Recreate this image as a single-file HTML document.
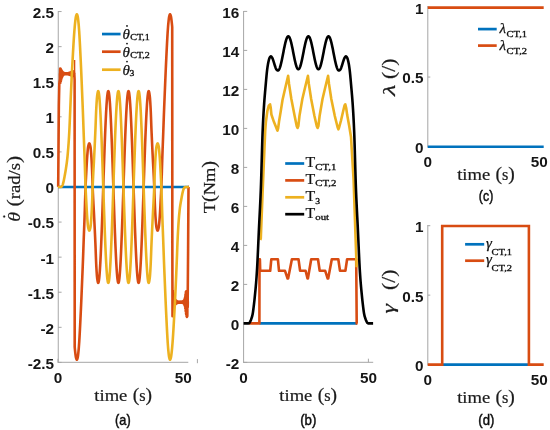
<!DOCTYPE html>
<html lang="en"><head><meta charset="utf-8"><title>figure</title>
<style>html,body{margin:0;padding:0;background:#fff;}svg{display:block}</style></head>
<body>
<svg width="550" height="430" viewBox="0 0 550 430">
<rect width="550" height="430" fill="#ffffff"/>
<g shape-rendering="auto">
<line x1="58.25" y1="11.1" x2="58.25" y2="362.8" stroke="#a6a6a6" stroke-width="1"/>
<line x1="57.75" y1="362.3" x2="188.3" y2="362.3" stroke="#a6a6a6" stroke-width="1"/>
<line x1="58" y1="11.56" x2="61.6" y2="11.56" stroke="#a6a6a6" stroke-width="1"/>
<line x1="58" y1="46.644000000000005" x2="61.6" y2="46.644000000000005" stroke="#a6a6a6" stroke-width="1"/>
<line x1="58" y1="81.72800000000001" x2="61.6" y2="81.72800000000001" stroke="#a6a6a6" stroke-width="1"/>
<line x1="58" y1="116.81200000000001" x2="61.6" y2="116.81200000000001" stroke="#a6a6a6" stroke-width="1"/>
<line x1="58" y1="151.89600000000002" x2="61.6" y2="151.89600000000002" stroke="#a6a6a6" stroke-width="1"/>
<line x1="58" y1="186.98000000000002" x2="61.6" y2="186.98000000000002" stroke="#a6a6a6" stroke-width="1"/>
<line x1="58" y1="222.06400000000002" x2="61.6" y2="222.06400000000002" stroke="#a6a6a6" stroke-width="1"/>
<line x1="58" y1="257.148" x2="61.6" y2="257.148" stroke="#a6a6a6" stroke-width="1"/>
<line x1="58" y1="292.232" x2="61.6" y2="292.232" stroke="#a6a6a6" stroke-width="1"/>
<line x1="58" y1="327.31600000000003" x2="61.6" y2="327.31600000000003" stroke="#a6a6a6" stroke-width="1"/>
<line x1="58" y1="362.40000000000003" x2="61.6" y2="362.40000000000003" stroke="#a6a6a6" stroke-width="1"/>
<line x1="58" y1="362.4" x2="58" y2="358.79999999999995" stroke="#a6a6a6" stroke-width="1"/>
<line x1="197.4" y1="359.1" x2="197.4" y2="363.2" stroke="#a6a6a6" stroke-width="1"/>
<line x1="243.6" y1="11.0" x2="243.6" y2="362.8" stroke="#a6a6a6" stroke-width="1"/>
<line x1="243.1" y1="362.3" x2="373.2" y2="362.3" stroke="#a6a6a6" stroke-width="1"/>
<line x1="243.6" y1="11.399999999999977" x2="247.2" y2="11.399999999999977" stroke="#a6a6a6" stroke-width="1"/>
<line x1="243.6" y1="50.39999999999998" x2="247.2" y2="50.39999999999998" stroke="#a6a6a6" stroke-width="1"/>
<line x1="243.6" y1="89.39999999999998" x2="247.2" y2="89.39999999999998" stroke="#a6a6a6" stroke-width="1"/>
<line x1="243.6" y1="128.39999999999998" x2="247.2" y2="128.39999999999998" stroke="#a6a6a6" stroke-width="1"/>
<line x1="243.6" y1="167.39999999999998" x2="247.2" y2="167.39999999999998" stroke="#a6a6a6" stroke-width="1"/>
<line x1="243.6" y1="206.39999999999998" x2="247.2" y2="206.39999999999998" stroke="#a6a6a6" stroke-width="1"/>
<line x1="243.6" y1="245.39999999999998" x2="247.2" y2="245.39999999999998" stroke="#a6a6a6" stroke-width="1"/>
<line x1="243.6" y1="284.4" x2="247.2" y2="284.4" stroke="#a6a6a6" stroke-width="1"/>
<line x1="243.6" y1="323.4" x2="247.2" y2="323.4" stroke="#a6a6a6" stroke-width="1"/>
<line x1="243.6" y1="362.4" x2="247.2" y2="362.4" stroke="#a6a6a6" stroke-width="1"/>
<line x1="368.4" y1="362.3" x2="368.4" y2="358.7" stroke="#a6a6a6" stroke-width="1"/>
<line x1="427.8" y1="6" x2="427.8" y2="147.5" stroke="#a6a6a6" stroke-width="1"/>
<line x1="427.8" y1="146.8" x2="430.3" y2="146.8" stroke="#a6a6a6" stroke-width="1"/>
<line x1="427.8" y1="77.05000000000001" x2="430.3" y2="77.05000000000001" stroke="#a6a6a6" stroke-width="1"/>
<line x1="427.8" y1="7.300000000000011" x2="430.3" y2="7.300000000000011" stroke="#a6a6a6" stroke-width="1"/>
<line x1="427.8" y1="225" x2="427.8" y2="365.5" stroke="#a6a6a6" stroke-width="1"/>
<line x1="427.8" y1="364.6" x2="430.3" y2="364.6" stroke="#a6a6a6" stroke-width="1"/>
<line x1="427.8" y1="295.15000000000003" x2="430.3" y2="295.15000000000003" stroke="#a6a6a6" stroke-width="1"/>
<line x1="427.8" y1="225.70000000000002" x2="430.3" y2="225.70000000000002" stroke="#a6a6a6" stroke-width="1"/>
</g>
<g>
<path d="M58.00,187.05 L189.00,187.05" fill="none" stroke="#0072BD" stroke-width="2.6" stroke-linejoin="round" stroke-linecap="butt"/>
<path d="M58.00,187.00 L58.20,186.50 L58.50,150.00 L58.85,105.00 L59.30,84.00 L59.90,79.00 L59.90,73.75 L59.95,80.20 L60.00,82.85 L60.05,80.17 L60.10,73.75 L60.15,70.14 L60.20,68.64 L60.25,70.12 L60.30,73.75 L60.35,80.09 L60.40,82.69 L60.45,80.06 L60.50,73.75 L60.55,70.15 L60.60,68.77 L60.65,70.30 L60.70,73.75 L60.75,79.26 L60.80,81.33 L60.85,78.97 L60.90,73.75 L60.95,70.72 L61.00,69.55 L61.05,70.86 L61.10,73.75 L61.15,78.11 L61.20,79.71 L61.25,77.82 L61.30,73.75 L61.35,71.31 L61.40,70.39 L61.45,71.44 L61.50,73.75 L61.55,77.08 L61.60,78.30 L61.65,76.86 L61.70,73.75 L61.75,71.80 L61.80,71.07 L61.85,71.90 L61.90,73.75 L61.95,76.29 L62.00,77.22 L62.05,76.11 L62.10,73.75 L62.15,72.20 L62.20,71.63 L62.25,72.29 L62.30,73.75 L62.35,75.64 L62.40,76.33 L62.45,75.51 L62.50,73.75 L62.55,72.54 L62.60,72.09 L62.65,72.61 L62.70,73.75 L62.75,75.15 L62.80,75.66 L62.85,75.05 L62.90,73.75 L62.95,72.80 L63.00,72.45 L63.05,72.86 L63.10,73.75 L63.15,74.79 L63.20,75.16 L63.25,74.71 L63.30,73.75 L63.35,73.01 L63.40,72.74 L63.45,73.05 L63.50,73.75 L63.55,74.51 L63.60,74.79 L63.65,74.46 L63.70,73.75 L63.75,73.17 L63.80,72.96 L63.85,73.21 L63.90,73.75 L63.95,74.31 L64.00,74.51 L64.05,74.27 L64.10,73.75 L64.15,73.29 L64.20,73.11 L64.25,73.31 L64.30,73.75 L64.35,74.19 L64.40,74.35 L64.45,74.16 L64.50,73.75 L64.55,73.36 L64.60,73.21 L64.65,73.38 L64.70,73.75 L64.75,74.11 L64.80,74.24 L64.85,74.09 L64.90,73.75 L64.95,73.42 L65.00,73.30 L65.05,73.44 L65.10,73.75 L65.15,74.06 L65.20,74.18 L65.25,74.05 L65.30,73.75 L65.35,73.46 L65.40,73.35 L65.45,73.47 L65.50,73.75 L65.55,74.02 L65.60,74.13 L65.65,74.02 L65.70,73.75 L65.75,73.49 L65.80,73.39 L65.85,73.50 L65.90,73.75 L65.95,74.00 L66.00,74.09 L66.05,73.99 L66.10,73.75 L66.15,73.52 L66.20,73.42 L66.25,73.52 L66.30,73.75 L66.35,73.97 L66.40,74.06 L66.45,73.97 L66.50,73.75 L66.55,73.53 L66.60,73.44 L66.65,73.53 L66.70,73.75 L66.75,73.98 L66.80,74.08 L66.85,73.98 L66.90,73.75 L66.95,73.51 L67.00,73.41 L67.05,73.50 L67.10,73.75 L67.15,74.00 L67.20,74.11 L67.25,74.01 L67.30,73.75 L67.35,73.48 L67.40,73.37 L67.45,73.48 L67.50,73.75 L67.55,74.03 L67.60,74.15 L67.65,74.04 L67.70,73.75 L67.75,73.45 L67.80,73.32 L67.85,73.44 L67.90,73.75 L67.95,74.06 L68.00,74.20 L68.05,74.08 L68.10,73.75 L68.15,73.40 L68.20,73.25 L68.25,73.38 L68.30,73.75 L68.35,74.14 L68.40,74.32 L68.45,74.16 L68.50,73.75 L68.55,73.31 L68.60,73.11 L68.65,73.29 L68.70,73.75 L68.75,74.24 L68.80,74.46 L68.85,74.27 L68.90,73.75 L68.95,73.20 L69.00,72.95 L69.05,73.17 L69.10,73.75 L69.15,74.35 L69.20,74.61 L69.25,74.37 L69.30,73.75 L69.35,73.11 L69.40,72.82 L69.45,73.08 L69.50,73.75 L69.55,74.44 L69.60,74.75 L69.65,74.47 L69.70,73.75 L69.75,73.00 L69.80,72.67 L69.85,72.97 L69.90,73.75 L69.95,74.56 L70.00,74.91 L70.05,74.59 L70.10,73.75 L70.15,72.88 L70.20,72.50 L70.25,72.85 L70.30,73.75 L70.35,74.68 L70.40,75.07 L70.45,74.69 L70.50,73.75 L70.55,72.79 L70.60,72.38 L70.65,72.77 L70.70,73.75 L70.75,74.74 L70.80,75.17 L70.85,74.76 L70.90,73.75 L70.95,72.72 L71.00,72.28 L71.05,72.70 L71.10,73.75 L71.15,74.81 L71.20,75.27 L71.25,74.83 L71.30,73.75 L71.35,72.65 L71.40,72.18 L71.45,72.63 L71.50,73.75 L71.55,74.89 L71.60,75.37 L71.65,74.91 L71.70,73.75 L71.75,72.58 L71.80,72.08 L71.85,72.56 L71.90,73.75 L71.95,74.96 L72.00,75.47 L72.05,74.98 L72.10,73.75 L72.15,72.50 L72.20,71.97 L72.25,72.49 L72.30,73.75 L72.35,75.03 L72.40,75.58 L72.45,75.05 L72.50,73.75 L72.55,72.43 L72.60,71.87 L72.65,72.41 L72.70,73.75 L72.75,75.11 L72.80,75.69 L72.85,75.13 L72.90,73.75 L72.95,72.35 L73.00,71.75 L73.05,72.33 L73.10,73.75 L73.15,75.19 L73.20,75.79 L73.25,75.20 L73.30,73.75 L73.35,72.28 L73.40,71.66 L73.45,72.27 L73.50,73.75 L73.55,75.25 L73.60,75.88 L73.65,75.26 L73.70,73.75 L73.75,72.22 L73.80,71.57 L73.85,72.20 L73.90,73.75 L74.30,73.75 L74.62,79.75 L74.70,346.90 L74.70,346.90 L74.80,348.03 L74.90,349.11 L75.00,350.13 L75.10,351.10 L75.20,352.00 L75.30,352.87 L75.40,353.73 L75.50,354.57 L75.60,355.36 L75.70,356.09 L75.80,356.74 L75.90,357.28 L76.00,357.70 L76.10,358.05 L76.20,358.38 L76.30,358.70 L76.40,358.99 L76.50,359.24 L76.60,359.44 L76.70,359.59 L76.80,359.68 L76.90,359.70 L77.00,359.62 L77.10,359.47 L77.20,359.25 L77.30,358.97 L77.40,358.64 L77.50,358.28 L77.60,357.90 L77.70,357.50 L77.80,357.03 L77.90,356.43 L78.00,355.73 L78.10,354.93 L78.20,354.06 L78.30,353.14 L78.40,352.18 L78.50,351.20 L78.60,350.17 L78.70,349.04 L78.80,347.82 L78.90,346.52 L79.00,345.16 L79.10,343.75 L79.20,342.30 L79.30,340.77 L79.40,339.15 L79.50,337.43 L79.60,335.66 L79.70,333.84 L79.80,332.00 L79.90,330.12 L80.00,328.19 L80.10,326.20 L80.20,324.18 L80.30,322.13 L80.40,320.07 L80.50,318.00 L80.60,315.92 L80.70,313.83 L80.80,311.72 L80.90,309.59 L81.00,307.43 L81.10,305.23 L81.20,303.00 L81.30,300.72 L81.40,298.40 L81.50,296.04 L81.60,293.66 L81.70,291.25 L81.80,288.83 L81.90,286.41 L82.00,284.00 L82.10,281.60 L82.20,279.21 L82.30,276.81 L82.40,274.41 L82.50,271.99 L82.60,269.55 L82.70,267.08 L82.80,264.56 L82.90,262.00 L83.00,259.37 L83.10,256.66 L83.20,253.91 L83.30,251.12 L83.40,248.31 L83.50,245.51 L83.60,242.74 L83.70,240.00 L83.80,237.32 L83.90,234.68 L84.00,232.06 L84.10,229.46 L84.20,226.85 L84.30,224.21 L84.40,221.53 L84.50,218.80 L84.60,216.00 L84.70,213.05 L84.80,209.94 L84.90,206.71 L85.00,203.43 L85.10,200.15 L85.20,196.94 L85.30,193.84 L85.40,190.92 L85.50,188.24 L85.60,185.82 L85.70,183.59 L85.80,181.49 L85.90,179.49 L86.00,177.57 L86.10,175.70 L86.20,173.85 L86.30,172.00 L86.40,170.11 L86.50,168.21 L86.60,166.31 L86.70,164.46 L86.80,162.67 L86.90,160.98 L87.00,159.41 L87.10,158.00 L87.20,156.67 L87.30,155.35 L87.40,154.06 L87.50,152.81 L87.60,151.61 L87.70,150.48 L87.80,149.45 L87.90,148.51 L88.00,147.70 L88.10,147.03 L88.20,146.50 L88.30,146.06 L88.40,145.64 L88.50,145.23 L88.60,144.85 L88.70,144.50 L88.80,144.19 L88.90,143.92 L89.00,143.70 L89.10,143.54 L89.20,143.44 L89.30,143.40 L89.40,143.43 L89.50,143.54 L89.60,143.70 L89.70,143.91 L89.80,144.18 L89.90,144.49 L90.00,144.84 L90.10,145.22 L90.20,145.63 L90.30,146.06 L90.40,146.50 L90.50,147.04 L90.60,147.74 L90.70,148.58 L90.80,149.56 L90.90,150.65 L91.00,151.84 L91.10,153.12 L91.20,154.46 L91.30,155.85 L91.40,157.28 L91.50,158.75 L91.60,160.41 L91.70,162.25 L91.80,164.26 L91.90,166.40 L92.00,168.65 L92.10,171.00 L92.20,173.62 L92.30,176.59 L92.40,179.72 L92.50,182.82 L92.60,185.70 L92.70,188.22 L92.80,190.57 L92.90,192.79 L93.00,194.92 L93.10,196.98 L93.20,199.00 L93.30,201.00 L93.40,202.95 L93.50,204.81 L93.60,206.63 L93.70,208.43 L93.80,210.24 L93.90,212.08 L94.00,214.00 L94.10,215.97 L94.20,217.95 L94.30,219.95 L94.40,221.97 L94.50,224.01 L94.60,226.07 L94.70,228.15 L94.80,230.26 L94.90,232.40 L95.00,234.56 L95.10,236.75 L95.20,238.96 L95.30,241.22 L95.40,243.50 L95.50,245.91 L95.60,248.51 L95.70,251.21 L95.80,253.96 L95.90,256.69 L96.00,259.32 L96.10,261.80 L96.20,264.04 L96.30,266.00 L96.40,267.77 L96.50,269.50 L96.60,271.17 L96.70,272.75 L96.80,274.22 L96.90,275.55 L97.00,276.72 L97.10,277.71 L97.20,278.50 L97.30,279.17 L97.40,279.82 L97.50,280.44 L97.60,281.02 L97.70,281.54 L97.80,282.00 L97.90,282.37 L98.00,282.66 L98.10,282.84 L98.20,282.90 L98.30,282.85 L98.40,282.71 L98.50,282.48 L98.60,282.16 L98.70,281.74 L98.80,281.23 L98.90,280.64 L99.00,279.95 L99.10,279.17 L99.20,278.30 L99.30,277.34 L99.40,276.30 L99.50,275.17 L99.60,273.95 L99.70,272.65 L99.80,271.27 L99.90,269.80 L100.00,268.26 L100.10,266.63 L100.20,264.93 L100.30,263.16 L100.40,261.31 L100.50,259.39 L100.60,257.40 L100.70,255.34 L100.80,253.21 L100.90,251.02 L101.00,248.77 L101.10,246.46 L101.20,244.09 L101.30,241.67 L101.40,239.19 L101.50,236.66 L101.60,234.09 L101.70,231.47 L101.80,228.80 L101.90,226.10 L102.00,223.35 L102.10,220.58 L102.20,217.77 L102.30,214.93 L102.40,212.06 L102.50,209.17 L102.60,206.26 L102.70,203.33 L102.80,200.38 L102.90,197.42 L103.00,194.45 L103.10,191.47 L103.20,188.49 L103.30,185.51 L103.40,182.53 L103.50,179.55 L103.60,176.58 L103.70,173.62 L103.80,170.67 L103.90,167.74 L104.00,164.83 L104.10,161.94 L104.20,159.07 L104.30,156.23 L104.40,153.42 L104.50,150.65 L104.60,147.90 L104.70,145.20 L104.80,142.53 L104.90,139.91 L105.00,137.34 L105.10,134.81 L105.20,132.33 L105.30,129.91 L105.40,127.54 L105.50,125.23 L105.60,122.98 L105.70,120.79 L105.80,118.66 L105.90,116.60 L106.00,114.61 L106.10,112.69 L106.20,110.84 L106.30,109.07 L106.40,107.37 L106.50,105.74 L106.60,104.20 L106.70,102.73 L106.80,101.35 L106.90,100.05 L107.00,98.83 L107.10,97.70 L107.20,96.66 L107.30,95.70 L107.40,94.83 L107.50,94.05 L107.60,93.36 L107.70,92.77 L107.80,92.26 L107.90,91.84 L108.00,91.52 L108.10,91.29 L108.20,91.15 L108.30,91.10 L108.40,91.15 L108.50,91.29 L108.60,91.52 L108.70,91.84 L108.80,92.26 L108.90,92.77 L109.00,93.36 L109.10,94.05 L109.20,94.83 L109.30,95.70 L109.40,96.66 L109.50,97.70 L109.60,98.83 L109.70,100.05 L109.80,101.35 L109.90,102.73 L110.00,104.20 L110.10,105.74 L110.20,107.37 L110.30,109.07 L110.40,110.84 L110.50,112.69 L110.60,114.61 L110.70,116.60 L110.80,118.66 L110.90,120.79 L111.00,122.98 L111.10,125.23 L111.20,127.54 L111.30,129.91 L111.40,132.33 L111.50,134.81 L111.60,137.34 L111.70,139.91 L111.80,142.53 L111.90,145.20 L112.00,147.90 L112.10,150.65 L112.20,153.42 L112.30,156.23 L112.40,159.07 L112.50,161.94 L112.60,164.83 L112.70,167.74 L112.80,170.67 L112.90,173.62 L113.00,176.58 L113.10,179.55 L113.20,182.53 L113.30,185.51 L113.40,188.49 L113.50,191.47 L113.60,194.45 L113.70,197.42 L113.80,200.38 L113.90,203.33 L114.00,206.26 L114.10,209.17 L114.20,212.06 L114.30,214.93 L114.40,217.77 L114.50,220.58 L114.60,223.35 L114.70,226.10 L114.80,228.80 L114.90,231.47 L115.00,234.09 L115.10,236.66 L115.20,239.19 L115.30,241.67 L115.40,244.09 L115.50,246.46 L115.60,248.77 L115.70,251.02 L115.80,253.21 L115.90,255.34 L116.00,257.40 L116.10,259.39 L116.20,261.31 L116.30,263.16 L116.40,264.93 L116.50,266.63 L116.60,268.26 L116.70,269.80 L116.80,271.27 L116.90,272.65 L117.00,273.95 L117.10,275.17 L117.20,276.30 L117.30,277.34 L117.40,278.30 L117.50,279.17 L117.60,279.95 L117.70,280.64 L117.80,281.23 L117.90,281.74 L118.00,282.16 L118.10,282.48 L118.20,282.71 L118.30,282.85 L118.40,282.90 L118.50,282.85 L118.60,282.71 L118.70,282.48 L118.80,282.16 L118.90,281.74 L119.00,281.23 L119.10,280.64 L119.20,279.95 L119.30,279.17 L119.40,278.30 L119.50,277.34 L119.60,276.30 L119.70,275.17 L119.80,273.95 L119.90,272.65 L120.00,271.27 L120.10,269.80 L120.20,268.26 L120.30,266.63 L120.40,264.93 L120.50,263.16 L120.60,261.31 L120.70,259.39 L120.80,257.40 L120.90,255.34 L121.00,253.21 L121.10,251.02 L121.20,248.77 L121.30,246.46 L121.40,244.09 L121.50,241.67 L121.60,239.19 L121.70,236.66 L121.80,234.09 L121.90,231.47 L122.00,228.80 L122.10,226.10 L122.20,223.35 L122.30,220.58 L122.40,217.77 L122.50,214.93 L122.60,212.06 L122.70,209.17 L122.80,206.26 L122.90,203.33 L123.00,200.38 L123.10,197.42 L123.20,194.45 L123.30,191.47 L123.40,188.49 L123.50,185.51 L123.60,182.53 L123.70,179.55 L123.80,176.58 L123.90,173.62 L124.00,170.67 L124.10,167.74 L124.20,164.83 L124.30,161.94 L124.40,159.07 L124.50,156.23 L124.60,153.42 L124.70,150.65 L124.80,147.90 L124.90,145.20 L125.00,142.53 L125.10,139.91 L125.20,137.34 L125.30,134.81 L125.40,132.33 L125.50,129.91 L125.60,127.54 L125.70,125.23 L125.80,122.98 L125.90,120.79 L126.00,118.66 L126.10,116.60 L126.20,114.61 L126.30,112.69 L126.40,110.84 L126.50,109.07 L126.60,107.37 L126.70,105.74 L126.80,104.20 L126.90,102.73 L127.00,101.35 L127.10,100.05 L127.20,98.83 L127.30,97.70 L127.40,96.66 L127.50,95.70 L127.60,94.83 L127.70,94.05 L127.80,93.36 L127.90,92.77 L128.00,92.26 L128.10,91.84 L128.20,91.52 L128.30,91.29 L128.40,91.15 L128.50,91.10 L128.60,91.15 L128.70,91.29 L128.80,91.52 L128.90,91.84 L129.00,92.26 L129.10,92.77 L129.20,93.36 L129.30,94.05 L129.40,94.83 L129.50,95.70 L129.60,96.66 L129.70,97.70 L129.80,98.83 L129.90,100.05 L130.00,101.35 L130.10,102.73 L130.20,104.20 L130.30,105.74 L130.40,107.37 L130.50,109.07 L130.60,110.84 L130.70,112.69 L130.80,114.61 L130.90,116.60 L131.00,118.66 L131.10,120.79 L131.20,122.98 L131.30,125.23 L131.40,127.54 L131.50,129.91 L131.60,132.33 L131.70,134.81 L131.80,137.34 L131.90,139.91 L132.00,142.53 L132.10,145.20 L132.20,147.90 L132.30,150.65 L132.40,153.42 L132.50,156.23 L132.60,159.07 L132.70,161.94 L132.80,164.83 L132.90,167.74 L133.00,170.67 L133.10,173.62 L133.20,176.58 L133.30,179.55 L133.40,182.53 L133.50,185.51 L133.60,188.49 L133.70,191.47 L133.80,194.45 L133.90,197.42 L134.00,200.38 L134.10,203.33 L134.20,206.26 L134.30,209.17 L134.40,212.06 L134.50,214.93 L134.60,217.77 L134.70,220.58 L134.80,223.35 L134.90,226.10 L135.00,228.80 L135.10,231.47 L135.20,234.09 L135.30,236.66 L135.40,239.19 L135.50,241.67 L135.60,244.09 L135.70,246.46 L135.80,248.77 L135.90,251.02 L136.00,253.21 L136.10,255.34 L136.20,257.40 L136.30,259.39 L136.40,261.31 L136.50,263.16 L136.60,264.93 L136.70,266.63 L136.80,268.26 L136.90,269.80 L137.00,271.27 L137.10,272.65 L137.20,273.95 L137.30,275.17 L137.40,276.30 L137.50,277.34 L137.60,278.30 L137.70,279.17 L137.80,279.95 L137.90,280.64 L138.00,281.23 L138.10,281.74 L138.20,282.16 L138.30,282.48 L138.40,282.71 L138.50,282.85 L138.60,282.90 L138.70,282.85 L138.80,282.71 L138.90,282.48 L139.00,282.16 L139.10,281.74 L139.20,281.23 L139.30,280.64 L139.40,279.95 L139.50,279.17 L139.60,278.30 L139.70,277.34 L139.80,276.30 L139.90,275.17 L140.00,273.95 L140.10,272.65 L140.20,271.27 L140.30,269.80 L140.40,268.26 L140.50,266.63 L140.60,264.93 L140.70,263.16 L140.80,261.31 L140.90,259.39 L141.00,257.40 L141.10,255.34 L141.20,253.21 L141.30,251.02 L141.40,248.77 L141.50,246.46 L141.60,244.09 L141.70,241.67 L141.80,239.19 L141.90,236.66 L142.00,234.09 L142.10,231.47 L142.20,228.80 L142.30,226.10 L142.40,223.35 L142.50,220.58 L142.60,217.77 L142.70,214.93 L142.80,212.06 L142.90,209.17 L143.00,206.26 L143.10,203.33 L143.20,200.38 L143.30,197.42 L143.40,194.45 L143.50,191.47 L143.60,188.49 L143.70,185.51 L143.80,182.53 L143.90,179.55 L144.00,176.58 L144.10,173.62 L144.20,170.67 L144.30,167.74 L144.40,164.83 L144.50,161.94 L144.60,159.07 L144.70,156.23 L144.80,153.42 L144.90,150.65 L145.00,147.90 L145.10,145.20 L145.20,142.53 L145.30,139.91 L145.40,137.34 L145.50,134.81 L145.60,132.33 L145.70,129.91 L145.80,127.54 L145.90,125.23 L146.00,122.98 L146.10,120.79 L146.20,118.66 L146.30,116.60 L146.40,114.61 L146.50,112.69 L146.60,110.84 L146.70,109.07 L146.80,107.37 L146.90,105.74 L147.00,104.20 L147.10,102.73 L147.20,101.35 L147.30,100.05 L147.40,98.83 L147.50,97.70 L147.60,96.66 L147.70,95.70 L147.80,94.83 L147.90,94.05 L148.00,93.36 L148.10,92.77 L148.20,92.26 L148.30,91.84 L148.40,91.52 L148.50,91.29 L148.60,91.15 L148.70,91.10 L148.80,91.16 L148.90,91.34 L149.00,91.63 L149.10,92.00 L149.20,92.46 L149.30,92.98 L149.40,93.56 L149.50,94.18 L149.60,94.83 L149.70,95.50 L149.80,96.29 L149.90,97.28 L150.00,98.45 L150.10,99.78 L150.20,101.25 L150.30,102.83 L150.40,104.50 L150.50,106.23 L150.60,108.00 L150.70,109.96 L150.80,112.20 L150.90,114.68 L151.00,117.31 L151.10,120.04 L151.20,122.79 L151.30,125.49 L151.40,128.09 L151.50,130.50 L151.60,132.78 L151.70,135.04 L151.80,137.25 L151.90,139.44 L152.00,141.60 L152.10,143.74 L152.20,145.85 L152.30,147.93 L152.40,149.99 L152.50,152.03 L152.60,154.05 L152.70,156.05 L152.80,158.03 L152.90,160.00 L153.00,161.92 L153.10,163.76 L153.20,165.57 L153.30,167.37 L153.40,169.19 L153.50,171.05 L153.60,173.00 L153.70,175.00 L153.80,177.02 L153.90,179.08 L154.00,181.21 L154.10,183.43 L154.20,185.78 L154.30,188.30 L154.40,191.18 L154.50,194.28 L154.60,197.41 L154.70,200.38 L154.80,203.00 L154.90,205.35 L155.00,207.60 L155.10,209.74 L155.20,211.75 L155.30,213.59 L155.40,215.25 L155.50,216.72 L155.60,218.15 L155.70,219.54 L155.80,220.88 L155.90,222.16 L156.00,223.35 L156.10,224.44 L156.20,225.42 L156.30,226.26 L156.40,226.96 L156.50,227.50 L156.60,227.94 L156.70,228.37 L156.80,228.78 L156.90,229.16 L157.00,229.51 L157.10,229.82 L157.20,230.09 L157.30,230.30 L157.40,230.46 L157.50,230.57 L157.60,230.60 L157.70,230.56 L157.80,230.46 L157.90,230.30 L158.00,230.08 L158.10,229.81 L158.20,229.50 L158.30,229.15 L158.40,228.77 L158.50,228.36 L158.60,227.94 L158.70,227.50 L158.80,226.97 L158.90,226.30 L159.00,225.49 L159.10,224.55 L159.20,223.52 L159.30,222.39 L159.40,221.19 L159.50,219.94 L159.60,218.65 L159.70,217.33 L159.80,216.00 L159.90,214.59 L160.00,213.02 L160.10,211.33 L160.20,209.54 L160.30,207.69 L160.40,205.79 L160.50,203.89 L160.60,202.00 L160.70,200.15 L160.80,198.30 L160.90,196.43 L161.00,194.51 L161.10,192.51 L161.20,190.41 L161.30,188.18 L161.40,185.76 L161.50,183.08 L161.60,180.16 L161.70,177.06 L161.80,173.85 L161.90,170.57 L162.00,167.29 L162.10,164.06 L162.20,160.95 L162.30,158.00 L162.40,155.20 L162.50,152.47 L162.60,149.79 L162.70,147.15 L162.80,144.54 L162.90,141.94 L163.00,139.32 L163.10,136.68 L163.20,134.00 L163.30,131.26 L163.40,128.49 L163.50,125.69 L163.60,122.88 L163.70,120.09 L163.80,117.34 L163.90,114.63 L164.00,112.00 L164.10,109.44 L164.20,106.92 L164.30,104.45 L164.40,102.01 L164.50,99.59 L164.60,97.19 L164.70,94.79 L164.80,92.40 L164.90,90.00 L165.00,87.59 L165.10,85.17 L165.20,82.75 L165.30,80.34 L165.40,77.96 L165.50,75.60 L165.60,73.28 L165.70,71.00 L165.80,68.77 L165.90,66.57 L166.00,64.41 L166.10,62.28 L166.20,60.17 L166.30,58.08 L166.40,56.00 L166.50,53.93 L166.60,51.87 L166.70,49.82 L166.80,47.80 L166.90,45.81 L167.00,43.88 L167.10,42.00 L167.20,40.16 L167.30,38.34 L167.40,36.57 L167.50,34.85 L167.60,33.23 L167.70,31.70 L167.80,30.25 L167.90,28.84 L168.00,27.48 L168.10,26.18 L168.20,24.96 L168.30,23.83 L168.40,22.80 L168.50,21.82 L168.60,20.86 L168.70,19.94 L168.80,19.07 L168.90,18.27 L169.00,17.57 L169.10,16.97 L169.20,16.50 L169.30,16.10 L169.40,15.72 L169.50,15.36 L169.60,15.03 L169.70,14.75 L169.80,14.53 L169.90,14.38 L170.00,14.30 L170.10,14.32 L170.20,14.41 L170.30,14.56 L170.40,14.76 L170.50,15.01 L170.60,15.30 L170.70,15.62 L170.80,15.95 L170.90,16.30 L171.00,16.72 L171.10,17.26 L171.20,17.91 L171.30,18.64 L171.40,19.43 L171.50,20.27 L171.60,21.13 L171.70,22.00 L171.80,22.90 L171.90,23.87 L172.00,24.89 L172.10,25.97 L172.20,27.10 L172.35,250.00 L172.50,316.00 L172.50,316.20 L172.55,311.77 L172.60,302.20 L172.65,293.27 L172.70,290.00 L172.75,293.86 L172.80,302.20 L172.85,309.99 L172.90,312.84 L172.95,309.47 L173.00,302.20 L173.05,295.41 L173.10,292.93 L173.15,295.86 L173.20,302.20 L173.25,308.12 L173.30,310.28 L173.35,307.72 L173.40,302.20 L173.45,297.04 L173.50,295.15 L173.55,297.38 L173.60,302.20 L173.65,306.70 L173.70,308.34 L173.75,306.40 L173.80,302.20 L173.85,298.28 L173.90,296.84 L173.95,298.54 L174.00,302.20 L174.05,305.63 L174.10,306.92 L174.15,305.44 L174.20,302.20 L174.25,299.15 L174.30,298.01 L174.35,299.32 L174.40,302.20 L174.45,304.92 L174.50,305.93 L174.55,304.76 L174.60,302.20 L174.65,299.78 L174.70,298.88 L174.75,299.92 L174.80,302.20 L174.85,304.35 L174.90,305.15 L174.95,304.23 L175.00,302.20 L175.05,300.29 L175.10,299.57 L175.15,300.40 L175.20,302.20 L175.25,303.90 L175.30,304.54 L175.35,303.80 L175.40,302.20 L175.45,300.69 L175.50,300.12 L175.55,300.77 L175.60,302.20 L175.65,303.55 L175.70,304.05 L175.75,303.47 L175.80,302.20 L175.85,301.00 L175.90,300.56 L175.95,301.07 L176.00,302.20 L176.05,303.26 L176.10,303.66 L176.15,303.20 L176.20,302.20 L176.25,301.25 L176.30,300.90 L176.35,301.30 L176.40,302.20 L176.45,303.06 L176.50,303.39 L176.55,303.02 L176.60,302.20 L176.65,301.42 L176.70,301.12 L176.75,301.45 L176.80,302.20 L176.85,302.92 L176.90,303.19 L176.95,302.88 L177.00,302.20 L177.05,301.55 L177.10,301.30 L177.15,301.58 L177.20,302.20 L177.25,302.80 L177.30,303.02 L177.35,302.77 L177.40,302.20 L177.45,301.66 L177.50,301.45 L177.55,301.68 L177.60,302.20 L177.65,302.70 L177.70,302.89 L177.75,302.68 L177.80,302.20 L177.85,301.75 L177.90,301.57 L177.95,301.77 L178.00,302.20 L178.05,302.62 L178.10,302.78 L178.15,302.60 L178.20,302.20 L178.25,301.81 L178.30,301.66 L178.35,301.82 L178.40,302.20 L178.45,302.56 L178.50,302.70 L178.55,302.55 L178.60,302.20 L178.65,301.86 L178.70,301.73 L178.75,301.87 L178.80,302.20 L178.85,302.52 L178.90,302.64 L178.95,302.51 L179.00,302.20 L179.05,301.91 L179.10,301.79 L179.15,301.92 L179.20,302.20 L179.25,302.48 L179.30,302.58 L179.35,302.47 L179.40,302.20 L179.45,301.94 L179.50,301.84 L179.55,301.95 L179.60,302.20 L179.65,302.44 L179.70,302.53 L179.75,302.43 L179.80,302.20 L179.85,301.98 L179.90,301.89 L179.95,301.98 L180.00,302.20 L180.05,302.41 L180.10,302.50 L180.15,302.42 L180.20,302.20 L180.25,301.98 L180.30,301.89 L180.35,301.98 L180.40,302.20 L180.45,302.42 L180.50,302.52 L180.55,302.42 L180.60,302.20 L180.65,301.97 L180.70,301.88 L180.75,301.97 L180.80,302.20 L180.85,302.43 L180.90,302.53 L180.95,302.43 L181.00,302.20 L181.05,301.96 L181.10,301.86 L181.15,301.96 L181.20,302.20 L181.25,302.44 L181.30,302.54 L181.35,302.44 L181.40,302.20 L181.45,301.95 L181.50,301.85 L181.55,301.95 L181.60,302.20 L181.65,302.46 L181.70,302.58 L181.75,302.47 L181.80,302.20 L181.85,301.91 L181.90,301.79 L181.95,301.90 L182.00,302.20 L182.05,302.51 L182.10,302.65 L182.15,302.52 L182.20,302.20 L182.25,301.86 L182.30,301.71 L182.35,301.85 L182.40,302.20 L182.45,302.57 L182.50,302.73 L182.55,302.58 L182.60,302.20 L182.65,301.80 L182.70,301.61 L182.75,301.76 L182.80,302.20 L182.85,302.67 L182.90,302.89 L182.95,302.71 L183.00,302.20 L183.05,301.66 L183.10,301.40 L183.15,301.61 L183.20,302.20 L183.25,302.83 L183.30,303.13 L183.35,302.88 L183.40,302.20 L183.45,301.46 L183.50,301.11 L183.55,301.39 L183.60,302.20 L183.65,303.08 L183.70,303.50 L183.75,303.16 L183.80,302.20 L183.85,301.16 L183.90,300.66 L183.95,301.06 L184.00,302.20 L184.05,303.44 L184.10,304.03 L184.15,303.55 L184.20,302.20 L184.25,300.71 L184.30,299.99 L184.35,300.55 L184.40,302.20 L184.45,304.02 L184.50,304.91 L184.55,304.22 L184.60,302.20 L184.65,299.97 L184.70,298.88 L184.75,299.73 L184.80,302.20 L184.85,304.93 L184.90,306.27 L184.95,305.22 L185.00,302.20 L185.05,298.84 L185.10,297.20 L185.15,298.47 L185.20,302.20 L185.25,306.35 L185.30,308.38 L185.35,306.81 L185.40,302.20 L185.45,297.07 L185.50,294.55 L185.55,296.50 L185.60,302.20 L185.65,308.41 L185.70,311.26 L185.75,308.82 L185.80,302.20 L185.85,295.14 L185.90,291.89 L185.95,294.67 L186.00,302.20 L186.05,310.23 L186.10,313.92 L186.15,310.76 L186.20,302.20 L186.25,294.42 L186.30,291.20 L186.35,294.42 L186.40,302.20 L186.45,311.80 L186.50,316.01 L186.55,312.13 L186.60,302.20 L186.65,294.42 L186.70,291.20 L186.75,294.42 L186.80,302.20 L186.85,312.67 L186.90,316.92 L186.95,312.54 L187.00,302.20 L187.05,294.42 L187.10,291.20 L187.15,294.42 L187.20,302.20 L187.25,312.16 L187.30,316.20 L187.35,310.93 L187.40,302.20 L187.45,295.40 L187.50,293.72 L187.55,296.91 L187.60,302.20 L187.65,306.32 L187.70,307.34 L187.75,305.41 L187.80,302.20 L187.70,300.00 L188.10,250.00 L188.50,187.00 L189.00,187.00" fill="none" stroke="#D84C12" stroke-width="2.6" stroke-linejoin="round" stroke-linecap="butt"/>
<path d="M74.65,60.00 L74.65,74.00" fill="none" stroke="#D84C12" stroke-width="1.3" stroke-linejoin="round" stroke-linecap="butt"/>
<path d="M58.00,187.00 L58.10,187.00 L58.20,187.00 L58.30,187.00 L58.40,187.00 L58.50,187.00 L58.60,187.00 L58.70,187.00 L58.80,187.00 L58.90,187.00 L59.00,187.00 L59.10,187.00 L59.20,187.00 L59.30,187.00 L59.40,187.00 L59.50,187.00 L59.60,187.00 L59.70,187.00 L59.80,187.00 L59.90,187.00 L60.00,187.00 L60.10,187.00 L60.20,187.00 L60.30,187.00 L60.40,187.00 L60.50,187.00 L60.60,186.99 L60.70,186.98 L60.80,186.95 L60.90,186.92 L61.00,186.88 L61.10,186.83 L61.20,186.78 L61.30,186.72 L61.40,186.66 L61.50,186.60 L61.60,186.53 L61.70,186.44 L61.80,186.33 L61.90,186.21 L62.00,186.07 L62.10,185.92 L62.20,185.75 L62.30,185.58 L62.40,185.39 L62.50,185.20 L62.60,184.98 L62.70,184.72 L62.80,184.43 L62.90,184.10 L63.00,183.76 L63.10,183.39 L63.20,183.00 L63.30,182.61 L63.40,182.20 L63.50,181.80 L63.60,181.39 L63.70,180.95 L63.80,180.50 L63.90,180.02 L64.00,179.53 L64.10,179.03 L64.20,178.51 L64.30,177.99 L64.40,177.45 L64.50,176.91 L64.60,176.36 L64.70,175.81 L64.80,175.25 L64.90,174.70 L65.00,174.15 L65.10,173.59 L65.20,173.02 L65.30,172.45 L65.40,171.87 L65.50,171.29 L65.60,170.69 L65.70,170.09 L65.80,169.47 L65.90,168.84 L66.00,168.20 L66.10,167.55 L66.20,166.88 L66.30,166.20 L66.40,165.50 L66.50,164.80 L66.60,164.07 L66.70,163.33 L66.80,162.58 L66.90,161.80 L67.00,160.99 L67.10,160.16 L67.20,159.31 L67.30,158.42 L67.40,157.50 L67.50,156.53 L67.60,155.51 L67.70,154.43 L67.80,153.31 L67.90,152.15 L68.00,150.96 L68.10,149.74 L68.20,148.50 L68.30,147.24 L68.40,145.95 L68.50,144.61 L68.60,143.23 L68.70,141.79 L68.80,140.28 L68.90,138.70 L69.00,137.02 L69.10,135.26 L69.20,133.43 L69.30,131.51 L69.40,129.54 L69.50,127.50 L69.60,125.36 L69.70,123.09 L69.80,120.74 L69.90,118.33 L70.00,115.90 L70.10,113.50 L70.20,111.09 L70.30,108.64 L70.40,106.17 L70.50,103.69 L70.60,101.24 L70.70,98.84 L70.80,96.50 L70.90,94.22 L71.00,91.96 L71.10,89.73 L71.20,87.53 L71.30,85.36 L71.40,83.22 L71.50,81.11 L71.60,79.04 L71.70,77.00 L71.80,75.00 L71.90,73.05 L72.00,71.12 L72.10,69.23 L72.20,67.36 L72.30,65.50 L72.40,63.66 L72.50,61.83 L72.60,60.00 L72.70,58.16 L72.80,56.33 L72.90,54.49 L73.00,52.67 L73.10,50.87 L73.20,49.09 L73.30,47.35 L73.40,45.65 L73.50,44.00 L73.60,42.38 L73.70,40.78 L73.80,39.20 L73.90,37.66 L74.00,36.16 L74.10,34.71 L74.20,33.32 L74.30,32.00 L74.40,30.73 L74.50,29.49 L74.60,28.28 L74.70,27.10 L74.80,25.97 L74.90,24.89 L75.00,23.87 L75.10,22.90 L75.20,22.00 L75.30,21.13 L75.40,20.27 L75.50,19.43 L75.60,18.64 L75.70,17.91 L75.80,17.26 L75.90,16.72 L76.00,16.30 L76.10,15.95 L76.20,15.62 L76.30,15.30 L76.40,15.01 L76.50,14.76 L76.60,14.56 L76.70,14.41 L76.80,14.32 L76.90,14.30 L77.00,14.38 L77.10,14.53 L77.20,14.75 L77.30,15.03 L77.40,15.36 L77.50,15.72 L77.60,16.10 L77.70,16.50 L77.80,16.97 L77.90,17.57 L78.00,18.27 L78.10,19.07 L78.20,19.94 L78.30,20.86 L78.40,21.82 L78.50,22.80 L78.60,23.83 L78.70,24.96 L78.80,26.18 L78.90,27.48 L79.00,28.84 L79.10,30.25 L79.20,31.70 L79.30,33.23 L79.40,34.85 L79.50,36.57 L79.60,38.34 L79.70,40.16 L79.80,42.00 L79.90,43.88 L80.00,45.81 L80.10,47.80 L80.20,49.82 L80.30,51.87 L80.40,53.93 L80.50,56.00 L80.60,58.08 L80.70,60.17 L80.80,62.28 L80.90,64.41 L81.00,66.57 L81.10,68.77 L81.20,71.00 L81.30,73.28 L81.40,75.60 L81.50,77.96 L81.60,80.34 L81.70,82.75 L81.80,85.17 L81.90,87.59 L82.00,90.00 L82.10,92.40 L82.20,94.79 L82.30,97.19 L82.40,99.59 L82.50,102.01 L82.60,104.45 L82.70,106.92 L82.80,109.44 L82.90,112.00 L83.00,114.63 L83.10,117.34 L83.20,120.09 L83.30,122.88 L83.40,125.69 L83.50,128.49 L83.60,131.26 L83.70,134.00 L83.80,136.68 L83.90,139.32 L84.00,141.94 L84.10,144.54 L84.20,147.15 L84.30,149.79 L84.40,152.47 L84.50,155.20 L84.60,158.00 L84.70,160.95 L84.80,164.06 L84.90,167.29 L85.00,170.57 L85.10,173.85 L85.20,177.06 L85.30,180.16 L85.40,183.08 L85.50,185.76 L85.60,188.18 L85.70,190.41 L85.80,192.51 L85.90,194.51 L86.00,196.43 L86.10,198.30 L86.20,200.15 L86.30,202.00 L86.40,203.89 L86.50,205.79 L86.60,207.69 L86.70,209.54 L86.80,211.33 L86.90,213.02 L87.00,214.59 L87.10,216.00 L87.20,217.33 L87.30,218.65 L87.40,219.94 L87.50,221.19 L87.60,222.39 L87.70,223.52 L87.80,224.55 L87.90,225.49 L88.00,226.30 L88.10,226.97 L88.20,227.50 L88.30,227.94 L88.40,228.36 L88.50,228.77 L88.60,229.15 L88.70,229.50 L88.80,229.81 L88.90,230.08 L89.00,230.30 L89.10,230.46 L89.20,230.56 L89.30,230.60 L89.40,230.57 L89.50,230.46 L89.60,230.30 L89.70,230.09 L89.80,229.82 L89.90,229.51 L90.00,229.16 L90.10,228.78 L90.20,228.37 L90.30,227.94 L90.40,227.50 L90.50,226.96 L90.60,226.26 L90.70,225.42 L90.80,224.44 L90.90,223.35 L91.00,222.16 L91.10,220.88 L91.20,219.54 L91.30,218.15 L91.40,216.72 L91.50,215.25 L91.60,213.59 L91.70,211.75 L91.80,209.74 L91.90,207.60 L92.00,205.35 L92.10,203.00 L92.20,200.38 L92.30,197.41 L92.40,194.28 L92.50,191.18 L92.60,188.30 L92.70,185.78 L92.80,183.43 L92.90,181.21 L93.00,179.08 L93.10,177.02 L93.20,175.00 L93.30,173.00 L93.40,171.05 L93.50,169.19 L93.60,167.37 L93.70,165.57 L93.80,163.76 L93.90,161.92 L94.00,160.00 L94.10,158.03 L94.20,156.05 L94.30,154.05 L94.40,152.03 L94.50,149.99 L94.60,147.93 L94.70,145.85 L94.80,143.74 L94.90,141.60 L95.00,139.44 L95.10,137.25 L95.20,135.04 L95.30,132.78 L95.40,130.50 L95.50,128.09 L95.60,125.49 L95.70,122.79 L95.80,120.04 L95.90,117.31 L96.00,114.68 L96.10,112.20 L96.20,109.96 L96.30,108.00 L96.40,106.23 L96.50,104.50 L96.60,102.83 L96.70,101.25 L96.80,99.78 L96.90,98.45 L97.00,97.28 L97.10,96.29 L97.20,95.50 L97.30,94.83 L97.40,94.18 L97.50,93.56 L97.60,92.98 L97.70,92.46 L97.80,92.00 L97.90,91.63 L98.00,91.34 L98.10,91.16 L98.20,91.10 L98.30,91.15 L98.40,91.29 L98.50,91.52 L98.60,91.84 L98.70,92.26 L98.80,92.77 L98.90,93.36 L99.00,94.05 L99.10,94.83 L99.20,95.70 L99.30,96.66 L99.40,97.70 L99.50,98.83 L99.60,100.05 L99.70,101.35 L99.80,102.73 L99.90,104.20 L100.00,105.74 L100.10,107.37 L100.20,109.07 L100.30,110.84 L100.40,112.69 L100.50,114.61 L100.60,116.60 L100.70,118.66 L100.80,120.79 L100.90,122.98 L101.00,125.23 L101.10,127.54 L101.20,129.91 L101.30,132.33 L101.40,134.81 L101.50,137.34 L101.60,139.91 L101.70,142.53 L101.80,145.20 L101.90,147.90 L102.00,150.65 L102.10,153.42 L102.20,156.23 L102.30,159.07 L102.40,161.94 L102.50,164.83 L102.60,167.74 L102.70,170.67 L102.80,173.62 L102.90,176.58 L103.00,179.55 L103.10,182.53 L103.20,185.51 L103.30,188.49 L103.40,191.47 L103.50,194.45 L103.60,197.42 L103.70,200.38 L103.80,203.33 L103.90,206.26 L104.00,209.17 L104.10,212.06 L104.20,214.93 L104.30,217.77 L104.40,220.58 L104.50,223.35 L104.60,226.10 L104.70,228.80 L104.80,231.47 L104.90,234.09 L105.00,236.66 L105.10,239.19 L105.20,241.67 L105.30,244.09 L105.40,246.46 L105.50,248.77 L105.60,251.02 L105.70,253.21 L105.80,255.34 L105.90,257.40 L106.00,259.39 L106.10,261.31 L106.20,263.16 L106.30,264.93 L106.40,266.63 L106.50,268.26 L106.60,269.80 L106.70,271.27 L106.80,272.65 L106.90,273.95 L107.00,275.17 L107.10,276.30 L107.20,277.34 L107.30,278.30 L107.40,279.17 L107.50,279.95 L107.60,280.64 L107.70,281.23 L107.80,281.74 L107.90,282.16 L108.00,282.48 L108.10,282.71 L108.20,282.85 L108.30,282.90 L108.40,282.85 L108.50,282.71 L108.60,282.48 L108.70,282.16 L108.80,281.74 L108.90,281.23 L109.00,280.64 L109.10,279.95 L109.20,279.17 L109.30,278.30 L109.40,277.34 L109.50,276.30 L109.60,275.17 L109.70,273.95 L109.80,272.65 L109.90,271.27 L110.00,269.80 L110.10,268.26 L110.20,266.63 L110.30,264.93 L110.40,263.16 L110.50,261.31 L110.60,259.39 L110.70,257.40 L110.80,255.34 L110.90,253.21 L111.00,251.02 L111.10,248.77 L111.20,246.46 L111.30,244.09 L111.40,241.67 L111.50,239.19 L111.60,236.66 L111.70,234.09 L111.80,231.47 L111.90,228.80 L112.00,226.10 L112.10,223.35 L112.20,220.58 L112.30,217.77 L112.40,214.93 L112.50,212.06 L112.60,209.17 L112.70,206.26 L112.80,203.33 L112.90,200.38 L113.00,197.42 L113.10,194.45 L113.20,191.47 L113.30,188.49 L113.40,185.51 L113.50,182.53 L113.60,179.55 L113.70,176.58 L113.80,173.62 L113.90,170.67 L114.00,167.74 L114.10,164.83 L114.20,161.94 L114.30,159.07 L114.40,156.23 L114.50,153.42 L114.60,150.65 L114.70,147.90 L114.80,145.20 L114.90,142.53 L115.00,139.91 L115.10,137.34 L115.20,134.81 L115.30,132.33 L115.40,129.91 L115.50,127.54 L115.60,125.23 L115.70,122.98 L115.80,120.79 L115.90,118.66 L116.00,116.60 L116.10,114.61 L116.20,112.69 L116.30,110.84 L116.40,109.07 L116.50,107.37 L116.60,105.74 L116.70,104.20 L116.80,102.73 L116.90,101.35 L117.00,100.05 L117.10,98.83 L117.20,97.70 L117.30,96.66 L117.40,95.70 L117.50,94.83 L117.60,94.05 L117.70,93.36 L117.80,92.77 L117.90,92.26 L118.00,91.84 L118.10,91.52 L118.20,91.29 L118.30,91.15 L118.40,91.10 L118.50,91.15 L118.60,91.29 L118.70,91.52 L118.80,91.84 L118.90,92.26 L119.00,92.77 L119.10,93.36 L119.20,94.05 L119.30,94.83 L119.40,95.70 L119.50,96.66 L119.60,97.70 L119.70,98.83 L119.80,100.05 L119.90,101.35 L120.00,102.73 L120.10,104.20 L120.20,105.74 L120.30,107.37 L120.40,109.07 L120.50,110.84 L120.60,112.69 L120.70,114.61 L120.80,116.60 L120.90,118.66 L121.00,120.79 L121.10,122.98 L121.20,125.23 L121.30,127.54 L121.40,129.91 L121.50,132.33 L121.60,134.81 L121.70,137.34 L121.80,139.91 L121.90,142.53 L122.00,145.20 L122.10,147.90 L122.20,150.65 L122.30,153.42 L122.40,156.23 L122.50,159.07 L122.60,161.94 L122.70,164.83 L122.80,167.74 L122.90,170.67 L123.00,173.62 L123.10,176.58 L123.20,179.55 L123.30,182.53 L123.40,185.51 L123.50,188.49 L123.60,191.47 L123.70,194.45 L123.80,197.42 L123.90,200.38 L124.00,203.33 L124.10,206.26 L124.20,209.17 L124.30,212.06 L124.40,214.93 L124.50,217.77 L124.60,220.58 L124.70,223.35 L124.80,226.10 L124.90,228.80 L125.00,231.47 L125.10,234.09 L125.20,236.66 L125.30,239.19 L125.40,241.67 L125.50,244.09 L125.60,246.46 L125.70,248.77 L125.80,251.02 L125.90,253.21 L126.00,255.34 L126.10,257.40 L126.20,259.39 L126.30,261.31 L126.40,263.16 L126.50,264.93 L126.60,266.63 L126.70,268.26 L126.80,269.80 L126.90,271.27 L127.00,272.65 L127.10,273.95 L127.20,275.17 L127.30,276.30 L127.40,277.34 L127.50,278.30 L127.60,279.17 L127.70,279.95 L127.80,280.64 L127.90,281.23 L128.00,281.74 L128.10,282.16 L128.20,282.48 L128.30,282.71 L128.40,282.85 L128.50,282.90 L128.60,282.85 L128.70,282.71 L128.80,282.48 L128.90,282.16 L129.00,281.74 L129.10,281.23 L129.20,280.64 L129.30,279.95 L129.40,279.17 L129.50,278.30 L129.60,277.34 L129.70,276.30 L129.80,275.17 L129.90,273.95 L130.00,272.65 L130.10,271.27 L130.20,269.80 L130.30,268.26 L130.40,266.63 L130.50,264.93 L130.60,263.16 L130.70,261.31 L130.80,259.39 L130.90,257.40 L131.00,255.34 L131.10,253.21 L131.20,251.02 L131.30,248.77 L131.40,246.46 L131.50,244.09 L131.60,241.67 L131.70,239.19 L131.80,236.66 L131.90,234.09 L132.00,231.47 L132.10,228.80 L132.20,226.10 L132.30,223.35 L132.40,220.58 L132.50,217.77 L132.60,214.93 L132.70,212.06 L132.80,209.17 L132.90,206.26 L133.00,203.33 L133.10,200.38 L133.20,197.42 L133.30,194.45 L133.40,191.47 L133.50,188.49 L133.60,185.51 L133.70,182.53 L133.80,179.55 L133.90,176.58 L134.00,173.62 L134.10,170.67 L134.20,167.74 L134.30,164.83 L134.40,161.94 L134.50,159.07 L134.60,156.23 L134.70,153.42 L134.80,150.65 L134.90,147.90 L135.00,145.20 L135.10,142.53 L135.20,139.91 L135.30,137.34 L135.40,134.81 L135.50,132.33 L135.60,129.91 L135.70,127.54 L135.80,125.23 L135.90,122.98 L136.00,120.79 L136.10,118.66 L136.20,116.60 L136.30,114.61 L136.40,112.69 L136.50,110.84 L136.60,109.07 L136.70,107.37 L136.80,105.74 L136.90,104.20 L137.00,102.73 L137.10,101.35 L137.20,100.05 L137.30,98.83 L137.40,97.70 L137.50,96.66 L137.60,95.70 L137.70,94.83 L137.80,94.05 L137.90,93.36 L138.00,92.77 L138.10,92.26 L138.20,91.84 L138.30,91.52 L138.40,91.29 L138.50,91.15 L138.60,91.10 L138.70,91.15 L138.80,91.29 L138.90,91.52 L139.00,91.84 L139.10,92.26 L139.20,92.77 L139.30,93.36 L139.40,94.05 L139.50,94.83 L139.60,95.70 L139.70,96.66 L139.80,97.70 L139.90,98.83 L140.00,100.05 L140.10,101.35 L140.20,102.73 L140.30,104.20 L140.40,105.74 L140.50,107.37 L140.60,109.07 L140.70,110.84 L140.80,112.69 L140.90,114.61 L141.00,116.60 L141.10,118.66 L141.20,120.79 L141.30,122.98 L141.40,125.23 L141.50,127.54 L141.60,129.91 L141.70,132.33 L141.80,134.81 L141.90,137.34 L142.00,139.91 L142.10,142.53 L142.20,145.20 L142.30,147.90 L142.40,150.65 L142.50,153.42 L142.60,156.23 L142.70,159.07 L142.80,161.94 L142.90,164.83 L143.00,167.74 L143.10,170.67 L143.20,173.62 L143.30,176.58 L143.40,179.55 L143.50,182.53 L143.60,185.51 L143.70,188.49 L143.80,191.47 L143.90,194.45 L144.00,197.42 L144.10,200.38 L144.20,203.33 L144.30,206.26 L144.40,209.17 L144.50,212.06 L144.60,214.93 L144.70,217.77 L144.80,220.58 L144.90,223.35 L145.00,226.10 L145.10,228.80 L145.20,231.47 L145.30,234.09 L145.40,236.66 L145.50,239.19 L145.60,241.67 L145.70,244.09 L145.80,246.46 L145.90,248.77 L146.00,251.02 L146.10,253.21 L146.20,255.34 L146.30,257.40 L146.40,259.39 L146.50,261.31 L146.60,263.16 L146.70,264.93 L146.80,266.63 L146.90,268.26 L147.00,269.80 L147.10,271.27 L147.20,272.65 L147.30,273.95 L147.40,275.17 L147.50,276.30 L147.60,277.34 L147.70,278.30 L147.80,279.17 L147.90,279.95 L148.00,280.64 L148.10,281.23 L148.20,281.74 L148.30,282.16 L148.40,282.48 L148.50,282.71 L148.60,282.85 L148.70,282.90 L148.80,282.84 L148.90,282.66 L149.00,282.37 L149.10,282.00 L149.20,281.54 L149.30,281.02 L149.40,280.44 L149.50,279.82 L149.60,279.17 L149.70,278.50 L149.80,277.71 L149.90,276.72 L150.00,275.55 L150.10,274.22 L150.20,272.75 L150.30,271.17 L150.40,269.50 L150.50,267.77 L150.60,266.00 L150.70,264.04 L150.80,261.80 L150.90,259.32 L151.00,256.69 L151.10,253.96 L151.20,251.21 L151.30,248.51 L151.40,245.91 L151.50,243.50 L151.60,241.22 L151.70,238.96 L151.80,236.75 L151.90,234.56 L152.00,232.40 L152.10,230.26 L152.20,228.15 L152.30,226.07 L152.40,224.01 L152.50,221.97 L152.60,219.95 L152.70,217.95 L152.80,215.97 L152.90,214.00 L153.00,212.08 L153.10,210.24 L153.20,208.43 L153.30,206.63 L153.40,204.81 L153.50,202.95 L153.60,201.00 L153.70,199.00 L153.80,196.98 L153.90,194.92 L154.00,192.79 L154.10,190.57 L154.20,188.22 L154.30,185.70 L154.40,182.82 L154.50,179.72 L154.60,176.59 L154.70,173.62 L154.80,171.00 L154.90,168.65 L155.00,166.40 L155.10,164.26 L155.20,162.25 L155.30,160.41 L155.40,158.75 L155.50,157.28 L155.60,155.85 L155.70,154.46 L155.80,153.12 L155.90,151.84 L156.00,150.65 L156.10,149.56 L156.20,148.58 L156.30,147.74 L156.40,147.04 L156.50,146.50 L156.60,146.06 L156.70,145.63 L156.80,145.22 L156.90,144.84 L157.00,144.49 L157.10,144.18 L157.20,143.91 L157.30,143.70 L157.40,143.54 L157.50,143.43 L157.60,143.40 L157.70,143.44 L157.80,143.54 L157.90,143.70 L158.00,143.92 L158.10,144.19 L158.20,144.50 L158.30,144.85 L158.40,145.23 L158.50,145.64 L158.60,146.06 L158.70,146.50 L158.80,147.03 L158.90,147.70 L159.00,148.51 L159.10,149.45 L159.20,150.48 L159.30,151.61 L159.40,152.81 L159.50,154.06 L159.60,155.35 L159.70,156.67 L159.80,158.00 L159.90,159.41 L160.00,160.98 L160.10,162.67 L160.20,164.46 L160.30,166.31 L160.40,168.21 L160.50,170.11 L160.60,172.00 L160.70,173.85 L160.80,175.70 L160.90,177.57 L161.00,179.49 L161.10,181.49 L161.20,183.59 L161.30,185.82 L161.40,188.24 L161.50,190.92 L161.60,193.84 L161.70,196.94 L161.80,200.15 L161.90,203.43 L162.00,206.71 L162.10,209.94 L162.20,213.05 L162.30,216.00 L162.40,218.80 L162.50,221.53 L162.60,224.21 L162.70,226.85 L162.80,229.46 L162.90,232.06 L163.00,234.68 L163.10,237.32 L163.20,240.00 L163.30,242.74 L163.40,245.51 L163.50,248.31 L163.60,251.12 L163.70,253.91 L163.80,256.66 L163.90,259.37 L164.00,262.00 L164.10,264.56 L164.20,267.08 L164.30,269.55 L164.40,271.99 L164.50,274.41 L164.60,276.81 L164.70,279.21 L164.80,281.60 L164.90,284.00 L165.00,286.41 L165.10,288.83 L165.20,291.25 L165.30,293.66 L165.40,296.04 L165.50,298.40 L165.60,300.72 L165.70,303.00 L165.80,305.23 L165.90,307.43 L166.00,309.59 L166.10,311.72 L166.20,313.83 L166.30,315.92 L166.40,318.00 L166.50,320.07 L166.60,322.13 L166.70,324.18 L166.80,326.20 L166.90,328.19 L167.00,330.12 L167.10,332.00 L167.20,333.84 L167.30,335.66 L167.40,337.43 L167.50,339.15 L167.60,340.77 L167.70,342.30 L167.80,343.75 L167.90,345.16 L168.00,346.52 L168.10,347.82 L168.20,349.04 L168.30,350.17 L168.40,351.20 L168.50,352.18 L168.60,353.14 L168.70,354.06 L168.80,354.93 L168.90,355.73 L169.00,356.43 L169.10,357.03 L169.20,357.50 L169.30,357.90 L169.40,358.28 L169.50,358.64 L169.60,358.97 L169.70,359.25 L169.80,359.47 L169.90,359.62 L170.00,359.70 L170.10,359.68 L170.20,359.59 L170.30,359.44 L170.40,359.24 L170.50,358.99 L170.60,358.70 L170.70,358.38 L170.80,358.05 L170.90,357.70 L171.00,357.28 L171.10,356.74 L171.20,356.09 L171.30,355.36 L171.40,354.57 L171.50,353.73 L171.60,352.87 L171.70,352.00 L171.80,351.10 L171.90,350.13 L172.00,349.11 L172.10,348.03 L172.20,346.90 L172.30,345.72 L172.40,344.51 L172.50,343.27 L172.60,342.00 L172.70,340.68 L172.80,339.29 L172.90,337.84 L173.00,336.34 L173.10,334.80 L173.20,333.22 L173.30,331.62 L173.40,330.00 L173.50,328.35 L173.60,326.65 L173.70,324.91 L173.80,323.13 L173.90,321.33 L174.00,319.51 L174.10,317.67 L174.20,315.84 L174.30,314.00 L174.40,312.17 L174.50,310.34 L174.60,308.50 L174.70,306.64 L174.80,304.77 L174.90,302.88 L175.00,300.95 L175.10,299.00 L175.20,297.00 L175.30,294.96 L175.40,292.89 L175.50,290.78 L175.60,288.64 L175.70,286.47 L175.80,284.27 L175.90,282.04 L176.00,279.78 L176.10,277.50 L176.20,275.16 L176.30,272.76 L176.40,270.31 L176.50,267.83 L176.60,265.36 L176.70,262.91 L176.80,260.50 L176.90,258.10 L177.00,255.67 L177.10,252.71 L177.20,249.84 L177.30,247.13 L177.40,244.60 L177.50,242.16 L177.60,239.83 L177.70,237.61 L177.80,235.52 L177.90,233.56 L178.00,231.72 L178.10,229.98 L178.20,228.32 L178.30,226.72 L178.40,225.17 L178.50,223.65 L178.60,222.17 L178.70,220.73 L178.80,219.35 L178.90,218.04 L179.00,216.82 L179.10,215.67 L179.20,214.58 L179.30,213.53 L179.40,212.52 L179.50,211.55 L179.60,210.62 L179.70,209.71 L179.80,208.82 L179.90,207.96 L180.00,207.12 L180.10,206.45 L180.20,205.80 L180.30,205.16 L180.40,204.53 L180.50,203.91 L180.60,203.31 L180.70,202.71 L180.80,202.13 L180.90,201.55 L181.00,200.98 L181.10,200.41 L181.20,199.85 L181.30,199.30 L181.40,198.75 L181.50,198.19 L181.60,197.64 L181.70,197.09 L181.80,196.55 L181.90,196.01 L182.00,195.49 L182.10,194.97 L182.20,194.47 L182.30,193.98 L182.40,193.50 L182.50,193.05 L182.60,192.61 L182.70,192.20 L182.80,191.80 L182.90,191.39 L183.00,191.00 L183.10,190.61 L183.20,190.24 L183.30,189.90 L183.40,189.57 L183.50,189.28 L183.60,189.02 L183.70,188.80 L183.80,188.61 L183.90,188.42 L184.00,188.25 L184.10,188.08 L184.20,187.93 L184.30,187.79 L184.40,187.67 L184.50,187.56 L184.60,187.47 L184.70,187.40 L184.80,187.34 L184.90,187.28 L185.00,187.22 L185.10,187.17 L185.20,187.12 L185.30,187.08 L185.40,187.05 L185.50,187.02 L185.60,187.01 L185.70,187.00 L185.80,187.00 L185.90,187.00 L186.00,187.00 L186.10,187.00 L186.20,187.00 L186.30,187.00 L186.40,187.00 L186.50,187.00 L186.60,187.00 L186.70,187.00 L186.80,187.00 L186.90,187.00 L187.00,187.00 L187.10,187.00 L187.20,187.00 L187.30,187.00 L187.40,187.00 L187.50,187.00 L187.60,187.00 L187.70,187.00 L187.80,187.00 L187.90,187.00 L188.00,187.00 L188.10,187.00 L188.20,187.00 L188.30,187.00 L188.40,187.00 L188.50,187.00 L188.60,187.00 L188.70,187.00 L188.80,187.00 L188.90,187.00" fill="none" stroke="#EDB120" stroke-width="2.6" stroke-linejoin="round" stroke-linecap="butt"/>
<path d="M259.50,323.40 L357.00,323.40" fill="none" stroke="#0072BD" stroke-width="2.6" stroke-linejoin="round" stroke-linecap="butt"/>
<path d="M249.00,323.40 L259.40,323.40 L259.50,259.30 L259.90,259.30 L260.20,270.80 L270.20,270.80 L271.30,259.30 L277.90,259.30 L279.00,270.80 L285.00,270.80 L287.60,278.50 L288.10,278.50 L291.90,259.30 L298.50,259.30 L300.10,270.80 L305.60,270.80 L307.50,278.50 L307.90,278.50 L311.20,259.30 L318.00,259.30 L319.70,270.80 L325.20,270.80 L327.70,278.50 L328.20,278.50 L331.80,259.30 L338.30,259.30 L340.00,270.80 L345.40,270.80 L347.10,259.30 L356.20,259.30 L356.70,323.40 L357.50,323.40" fill="none" stroke="#D84C12" stroke-width="2.6" stroke-linejoin="round" stroke-linecap="butt"/>
<path d="M260.30,240.00 L260.80,238.40 L262.70,190.00 L265.20,131.00 L265.90,121.80 L267.40,110.90 L268.80,105.60 L270.05,104.30 L270.70,107.50 L271.40,114.50 L273.90,121.80 L276.80,129.10 L277.50,130.60 L278.10,128.50 L279.00,121.80 L280.80,110.90 L282.50,100.00 L285.60,86.50 L288.15,75.80 L289.05,84.00 L291.35,99.00 L294.65,116.00 L296.75,126.30 L297.55,128.00 L298.35,126.00 L299.45,116.00 L302.35,99.00 L305.55,85.50 L307.95,75.80 L308.85,84.00 L311.15,99.00 L314.45,116.00 L316.80,126.30 L317.60,128.00 L318.40,126.00 L319.60,116.00 L322.50,99.00 L325.70,85.50 L328.10,75.80 L329.00,84.00 L331.30,99.00 L334.80,116.00 L337.60,127.30 L338.40,129.30 L339.10,127.50 L341.00,120.50 L343.20,111.00 L344.50,105.50 L345.30,104.30 L346.20,108.00 L347.20,115.10 L349.20,126.00 L351.00,137.00 L353.60,180.00 L355.30,230.00 L356.60,267.20" fill="none" stroke="#EDB120" stroke-width="2.6" stroke-linejoin="round" stroke-linecap="butt"/>
<path d="M243.60,323.40 L243.70,323.40 L243.80,323.40 L243.90,323.40 L244.00,323.40 L244.10,323.40 L244.20,323.40 L244.30,323.40 L244.40,323.40 L244.50,323.40 L244.60,323.40 L244.70,323.40 L244.80,323.40 L244.90,323.40 L245.00,323.40 L245.10,323.40 L245.20,323.40 L245.30,323.40 L245.40,323.40 L245.50,323.40 L245.60,323.40 L245.70,323.40 L245.80,323.40 L245.90,323.40 L246.00,323.40 L246.10,323.40 L246.20,323.40 L246.30,323.40 L246.40,323.40 L246.50,323.40 L246.60,323.40 L246.70,323.40 L246.80,323.40 L246.90,323.40 L247.00,323.40 L247.10,323.40 L247.20,323.40 L247.30,323.40 L247.40,323.40 L247.50,323.40 L247.60,323.40 L247.70,323.40 L247.80,323.40 L247.90,323.40 L248.00,323.40 L248.10,323.40 L248.20,323.40 L248.30,323.40 L248.40,323.40 L248.50,323.39 L248.60,323.37 L248.70,323.34 L248.80,323.30 L248.90,323.25 L249.00,323.19 L249.10,323.12 L249.20,323.05 L249.30,322.97 L249.40,322.88 L249.50,322.80 L249.60,322.70 L249.70,322.56 L249.80,322.40 L249.90,322.22 L250.00,322.02 L250.10,321.80 L250.20,321.58 L250.30,321.35 L250.40,321.12 L250.50,320.90 L250.60,320.68 L250.70,320.44 L250.80,320.20 L250.90,319.96 L251.00,319.70 L251.10,319.43 L251.20,319.16 L251.30,318.88 L251.40,318.60 L251.50,318.30 L251.60,318.00 L251.70,317.70 L251.80,317.39 L251.90,317.08 L252.00,316.75 L252.10,316.41 L252.20,316.05 L252.30,315.67 L252.40,315.26 L252.50,314.83 L252.60,314.36 L252.70,313.84 L252.80,313.26 L252.90,312.63 L253.00,311.97 L253.10,311.26 L253.20,310.53 L253.30,309.76 L253.40,308.98 L253.50,308.17 L253.60,307.36 L253.70,306.54 L253.80,305.72 L253.90,304.90 L254.00,304.07 L254.10,303.22 L254.20,302.34 L254.30,301.44 L254.40,300.52 L254.50,299.58 L254.60,298.63 L254.70,297.66 L254.80,296.69 L254.90,295.70 L255.00,294.70 L255.10,293.70 L255.20,292.69 L255.30,291.68 L255.40,290.66 L255.50,289.62 L255.60,288.55 L255.70,287.47 L255.80,286.35 L255.90,285.19 L256.00,284.00 L256.10,282.77 L256.20,281.52 L256.30,280.23 L256.40,278.90 L256.50,277.54 L256.60,276.13 L256.70,274.68 L256.80,273.18 L256.90,271.62 L257.00,270.00 L257.10,268.31 L257.20,266.52 L257.30,264.66 L257.40,262.72 L257.50,260.72 L257.60,258.65 L257.70,256.54 L257.80,254.39 L257.90,252.19 L258.00,249.97 L258.10,247.74 L258.20,245.48 L258.30,243.23 L258.40,240.97 L258.50,238.73 L258.60,236.50 L258.70,234.30 L258.80,232.13 L258.90,230.00 L259.00,227.92 L259.10,225.87 L259.20,223.85 L259.30,221.86 L259.40,219.88 L259.50,217.91 L259.60,215.95 L259.70,213.98 L259.80,212.00 L259.90,210.00 L260.00,207.97 L260.10,205.91 L260.20,203.81 L260.30,201.67 L260.40,199.47 L260.50,197.21 L260.60,194.88 L260.70,192.48 L260.80,190.00 L260.90,187.37 L261.00,184.53 L261.10,181.53 L261.20,178.38 L261.30,175.10 L261.40,171.72 L261.50,168.27 L261.60,164.77 L261.70,161.24 L261.80,157.71 L261.90,154.21 L262.00,150.75 L262.10,147.37 L262.20,144.09 L262.30,140.93 L262.40,137.91 L262.50,135.07 L262.60,132.42 L262.70,130.00 L262.80,127.73 L262.90,125.55 L263.00,123.43 L263.10,121.39 L263.20,119.42 L263.30,117.51 L263.40,115.67 L263.50,113.89 L263.60,112.17 L263.70,110.50 L263.80,108.88 L263.90,107.32 L264.00,105.80 L264.10,104.33 L264.20,102.91 L264.30,101.54 L264.40,100.20 L264.50,98.91 L264.60,97.65 L264.70,96.42 L264.80,95.22 L264.90,94.04 L265.00,92.87 L265.10,91.72 L265.20,90.59 L265.30,89.46 L265.40,88.33 L265.50,87.20 L265.60,86.06 L265.70,84.92 L265.80,83.78 L265.90,82.63 L266.00,81.49 L266.10,80.35 L266.20,79.23 L266.30,78.12 L266.40,77.03 L266.50,75.96 L266.60,74.91 L266.70,73.90 L266.80,72.91 L266.90,71.96 L267.00,71.06 L267.10,70.19 L267.20,69.37 L267.30,68.60 L267.40,67.87 L267.50,67.16 L267.60,66.48 L267.70,65.82 L267.80,65.19 L267.90,64.59 L268.00,64.01 L268.10,63.47 L268.20,62.95 L268.30,62.46 L268.40,62.00 L268.50,61.56 L268.60,61.12 L268.70,60.69 L268.80,60.27 L268.90,59.87 L269.00,59.48 L269.10,59.12 L269.20,58.79 L269.30,58.49 L269.40,58.22 L269.50,57.99 L269.60,57.80 L269.70,57.64 L269.80,57.47 L269.90,57.32 L270.00,57.17 L270.10,57.02 L270.20,56.89 L270.30,56.77 L270.40,56.67 L270.50,56.57 L270.60,56.50 L270.70,56.45 L270.80,56.41 L270.90,56.40 L271.00,56.41 L271.10,56.45 L271.20,56.51 L271.30,56.59 L271.40,56.68 L271.50,56.79 L271.60,56.92 L271.70,57.05 L271.80,57.20 L271.90,57.35 L272.00,57.51 L272.10,57.67 L272.20,57.84 L272.30,58.00 L272.40,58.18 L272.50,58.38 L272.60,58.60 L272.70,58.85 L272.80,59.11 L272.90,59.39 L273.00,59.68 L273.10,59.98 L273.20,60.29 L273.30,60.59 L273.40,60.90 L273.50,61.20 L273.60,61.50 L273.70,61.80 L273.80,62.11 L273.90,62.43 L274.00,62.76 L274.10,63.10 L274.20,63.44 L274.30,63.78 L274.40,64.12 L274.50,64.46 L274.60,64.79 L274.70,65.11 L274.80,65.42 L274.90,65.72 L275.00,66.00 L275.10,66.28 L275.20,66.57 L275.30,66.85 L275.40,67.14 L275.50,67.43 L275.60,67.72 L275.70,67.99 L275.80,68.26 L275.90,68.51 L276.00,68.75 L276.10,68.97 L276.20,69.16 L276.30,69.34 L276.40,69.48 L276.50,69.60 L276.60,69.70 L276.70,69.80 L276.80,69.89 L276.90,69.98 L277.00,70.07 L277.10,70.15 L277.20,70.23 L277.30,70.29 L277.40,70.35 L277.50,70.40 L277.60,70.44 L277.70,70.47 L277.80,70.49 L277.90,70.50 L278.00,70.45 L278.10,70.43 L278.20,70.40 L278.30,70.35 L278.40,70.29 L278.50,70.21 L278.60,70.12 L278.70,70.01 L278.80,69.89 L278.90,69.75 L279.00,69.60 L279.10,69.43 L279.20,69.25 L279.30,69.06 L279.40,68.85 L279.50,68.62 L279.60,68.38 L279.70,68.13 L279.80,67.87 L279.90,67.59 L280.00,67.30 L280.10,67.00 L280.20,66.68 L280.30,66.35 L280.40,66.01 L280.50,65.66 L280.60,65.30 L280.70,64.92 L280.80,64.54 L280.90,64.14 L281.00,63.74 L281.10,63.32 L281.20,62.90 L281.30,62.47 L281.40,62.03 L281.50,61.58 L281.60,61.12 L281.70,60.66 L281.80,60.19 L281.90,59.72 L282.00,59.23 L282.10,58.75 L282.20,58.26 L282.30,57.76 L282.40,57.26 L282.50,56.76 L282.60,56.25 L282.70,55.75 L282.80,55.24 L282.90,54.72 L283.00,54.21 L283.10,53.70 L283.20,53.19 L283.30,52.67 L283.40,52.16 L283.50,51.64 L283.60,51.13 L283.70,50.62 L283.80,50.11 L283.90,49.61 L284.00,49.10 L284.10,48.60 L284.20,48.11 L284.30,47.62 L284.40,47.13 L284.50,46.65 L284.60,46.18 L284.70,45.71 L284.80,45.25 L284.90,44.80 L285.00,44.35 L285.10,43.92 L285.20,43.49 L285.30,43.07 L285.40,42.66 L285.50,42.26 L285.60,41.87 L285.70,41.49 L285.80,41.12 L285.90,40.77 L286.00,40.42 L286.10,40.09 L286.20,39.77 L286.30,39.46 L286.40,39.17 L286.50,38.89 L286.60,38.62 L286.70,38.36 L286.80,38.13 L286.90,37.90 L287.00,37.69 L287.10,37.49 L287.20,37.31 L287.30,37.15 L287.40,37.00 L287.50,36.86 L287.60,36.74 L287.70,36.64 L287.80,36.55 L287.90,36.48 L288.00,36.42 L288.10,36.38 L288.20,36.36 L288.30,36.35 L288.40,36.36 L288.50,36.38 L288.60,36.42 L288.70,36.48 L288.80,36.55 L288.90,36.64 L289.00,36.74 L289.10,36.86 L289.20,37.00 L289.30,37.15 L289.40,37.31 L289.50,37.49 L289.60,37.69 L289.70,37.90 L289.80,38.13 L289.90,38.36 L290.00,38.62 L290.10,38.89 L290.20,39.17 L290.30,39.46 L290.40,39.77 L290.50,40.09 L290.60,40.42 L290.70,40.77 L290.80,41.12 L290.90,41.49 L291.00,41.87 L291.10,42.26 L291.20,42.66 L291.30,43.07 L291.40,43.49 L291.50,43.92 L291.60,44.35 L291.70,44.80 L291.80,45.25 L291.90,45.71 L292.00,46.18 L292.10,46.65 L292.20,47.13 L292.30,47.62 L292.40,48.11 L292.50,48.60 L292.60,49.10 L292.70,49.61 L292.80,50.11 L292.90,50.62 L293.00,51.13 L293.10,51.64 L293.20,52.16 L293.30,52.67 L293.40,53.19 L293.50,53.70 L293.60,54.21 L293.70,54.72 L293.80,55.23 L293.90,55.74 L294.00,56.25 L294.10,56.75 L294.20,57.24 L294.30,57.74 L294.40,58.22 L294.50,58.71 L294.60,59.18 L294.70,59.65 L294.80,60.12 L294.90,60.58 L295.00,61.02 L295.10,61.47 L295.20,61.90 L295.30,62.32 L295.40,62.74 L295.50,63.14 L295.60,63.54 L295.70,63.92 L295.80,64.29 L295.90,64.66 L296.00,65.01 L296.10,65.35 L296.20,65.67 L296.30,65.99 L296.40,66.29 L296.50,66.58 L296.60,66.85 L296.70,67.11 L296.80,67.36 L296.90,67.59 L297.00,67.81 L297.10,68.01 L297.20,68.20 L297.30,68.37 L297.40,68.53 L297.50,68.67 L297.60,68.80 L297.70,68.91 L297.80,69.01 L297.90,69.09 L298.00,69.15 L298.10,69.20 L298.20,69.23 L298.30,69.25 L298.40,69.25 L298.50,69.23 L298.60,69.20 L298.70,69.15 L298.80,69.09 L298.90,69.01 L299.00,68.91 L299.10,68.80 L299.20,68.67 L299.30,68.53 L299.40,68.37 L299.50,68.20 L299.60,68.01 L299.70,67.81 L299.80,67.59 L299.90,67.36 L300.00,67.11 L300.10,66.85 L300.20,66.58 L300.30,66.29 L300.40,65.99 L300.50,65.67 L300.60,65.35 L300.70,65.01 L300.80,64.66 L300.90,64.29 L301.00,63.92 L301.10,63.54 L301.20,63.14 L301.30,62.74 L301.40,62.32 L301.50,61.90 L301.60,61.47 L301.70,61.03 L301.80,60.58 L301.90,60.12 L302.00,59.65 L302.10,59.18 L302.20,58.71 L302.30,58.22 L302.40,57.74 L302.50,57.24 L302.60,56.75 L302.70,56.25 L302.80,55.74 L302.90,55.23 L303.00,54.72 L303.10,54.21 L303.20,53.70 L303.30,53.19 L303.40,52.67 L303.50,52.16 L303.60,51.64 L303.70,51.13 L303.80,50.62 L303.90,50.11 L304.00,49.61 L304.10,49.10 L304.20,48.60 L304.30,48.11 L304.40,47.62 L304.50,47.13 L304.60,46.65 L304.70,46.18 L304.80,45.71 L304.90,45.25 L305.00,44.80 L305.10,44.35 L305.20,43.92 L305.30,43.49 L305.40,43.07 L305.50,42.66 L305.60,42.26 L305.70,41.87 L305.80,41.49 L305.90,41.12 L306.00,40.77 L306.10,40.42 L306.20,40.09 L306.30,39.77 L306.40,39.46 L306.50,39.17 L306.60,38.89 L306.70,38.62 L306.80,38.36 L306.90,38.13 L307.00,37.90 L307.10,37.69 L307.20,37.49 L307.30,37.31 L307.40,37.15 L307.50,37.00 L307.60,36.86 L307.70,36.74 L307.80,36.64 L307.90,36.55 L308.00,36.48 L308.10,36.42 L308.20,36.38 L308.30,36.36 L308.40,36.35 L308.50,36.36 L308.60,36.38 L308.70,36.42 L308.80,36.48 L308.90,36.55 L309.00,36.64 L309.10,36.74 L309.20,36.86 L309.30,37.00 L309.40,37.15 L309.50,37.31 L309.60,37.49 L309.70,37.69 L309.80,37.90 L309.90,38.13 L310.00,38.36 L310.10,38.62 L310.20,38.89 L310.30,39.17 L310.40,39.46 L310.50,39.77 L310.60,40.09 L310.70,40.42 L310.80,40.77 L310.90,41.12 L311.00,41.49 L311.10,41.87 L311.20,42.26 L311.30,42.66 L311.40,43.07 L311.50,43.49 L311.60,43.92 L311.70,44.35 L311.80,44.80 L311.90,45.25 L312.00,45.71 L312.10,46.18 L312.20,46.65 L312.30,47.13 L312.40,47.62 L312.50,48.11 L312.60,48.60 L312.70,49.10 L312.80,49.61 L312.90,50.11 L313.00,50.62 L313.10,51.13 L313.20,51.64 L313.30,52.16 L313.40,52.67 L313.50,53.19 L313.60,53.70 L313.70,54.21 L313.80,54.72 L313.90,55.23 L314.00,55.74 L314.10,56.25 L314.20,56.75 L314.30,57.24 L314.40,57.74 L314.50,58.22 L314.60,58.71 L314.70,59.18 L314.80,59.65 L314.90,60.12 L315.00,60.58 L315.10,61.02 L315.20,61.47 L315.30,61.90 L315.40,62.32 L315.50,62.74 L315.60,63.14 L315.70,63.54 L315.80,63.92 L315.90,64.29 L316.00,64.66 L316.10,65.01 L316.20,65.35 L316.30,65.67 L316.40,65.99 L316.50,66.29 L316.60,66.58 L316.70,66.85 L316.80,67.11 L316.90,67.36 L317.00,67.59 L317.10,67.81 L317.20,68.01 L317.30,68.20 L317.40,68.37 L317.50,68.53 L317.60,68.67 L317.70,68.80 L317.80,68.91 L317.90,69.01 L318.00,69.09 L318.10,69.15 L318.20,69.20 L318.30,69.23 L318.40,69.25 L318.50,69.25 L318.60,69.23 L318.70,69.20 L318.80,69.15 L318.90,69.09 L319.00,69.01 L319.10,68.91 L319.20,68.80 L319.30,68.67 L319.40,68.53 L319.50,68.37 L319.60,68.20 L319.70,68.01 L319.80,67.81 L319.90,67.59 L320.00,67.36 L320.10,67.11 L320.20,66.85 L320.30,66.58 L320.40,66.29 L320.50,65.99 L320.60,65.67 L320.70,65.35 L320.80,65.01 L320.90,64.66 L321.00,64.29 L321.10,63.92 L321.20,63.54 L321.30,63.14 L321.40,62.74 L321.50,62.32 L321.60,61.90 L321.70,61.47 L321.80,61.03 L321.90,60.58 L322.00,60.12 L322.10,59.65 L322.20,59.18 L322.30,58.71 L322.40,58.22 L322.50,57.74 L322.60,57.24 L322.70,56.75 L322.80,56.25 L322.90,55.74 L323.00,55.23 L323.10,54.72 L323.20,54.21 L323.30,53.70 L323.40,53.19 L323.50,52.67 L323.60,52.16 L323.70,51.64 L323.80,51.13 L323.90,50.62 L324.00,50.11 L324.10,49.61 L324.20,49.10 L324.30,48.60 L324.40,48.11 L324.50,47.62 L324.60,47.13 L324.70,46.65 L324.80,46.18 L324.90,45.71 L325.00,45.25 L325.10,44.80 L325.20,44.35 L325.30,43.92 L325.40,43.49 L325.50,43.07 L325.60,42.66 L325.70,42.26 L325.80,41.87 L325.90,41.49 L326.00,41.12 L326.10,40.77 L326.20,40.42 L326.30,40.09 L326.40,39.77 L326.50,39.46 L326.60,39.17 L326.70,38.89 L326.80,38.62 L326.90,38.36 L327.00,38.13 L327.10,37.90 L327.20,37.69 L327.30,37.49 L327.40,37.31 L327.50,37.15 L327.60,37.00 L327.70,36.86 L327.80,36.74 L327.90,36.64 L328.00,36.55 L328.10,36.48 L328.20,36.42 L328.30,36.38 L328.40,36.36 L328.50,36.35 L328.60,36.36 L328.70,36.38 L328.80,36.42 L328.90,36.48 L329.00,36.55 L329.10,36.64 L329.20,36.74 L329.30,36.86 L329.40,37.00 L329.50,37.15 L329.60,37.31 L329.70,37.49 L329.80,37.69 L329.90,37.90 L330.00,38.13 L330.10,38.36 L330.20,38.62 L330.30,38.89 L330.40,39.17 L330.50,39.46 L330.60,39.77 L330.70,40.09 L330.80,40.42 L330.90,40.77 L331.00,41.12 L331.10,41.49 L331.20,41.87 L331.30,42.26 L331.40,42.66 L331.50,43.07 L331.60,43.49 L331.70,43.92 L331.80,44.35 L331.90,44.80 L332.00,45.25 L332.10,45.71 L332.20,46.18 L332.30,46.65 L332.40,47.13 L332.50,47.62 L332.60,48.11 L332.70,48.60 L332.80,49.10 L332.90,49.61 L333.00,50.11 L333.10,50.62 L333.20,51.13 L333.30,51.64 L333.40,52.16 L333.50,52.67 L333.60,53.19 L333.70,53.70 L333.80,54.21 L333.90,54.72 L334.00,55.24 L334.10,55.75 L334.20,56.25 L334.30,56.76 L334.40,57.26 L334.50,57.76 L334.60,58.26 L334.70,58.75 L334.80,59.23 L334.90,59.72 L335.00,60.19 L335.10,60.66 L335.20,61.12 L335.30,61.58 L335.40,62.03 L335.50,62.47 L335.60,62.90 L335.70,63.32 L335.80,63.74 L335.90,64.14 L336.00,64.54 L336.10,64.92 L336.20,65.30 L336.30,65.66 L336.40,66.01 L336.50,66.35 L336.60,66.68 L336.70,67.00 L336.80,67.30 L336.90,67.59 L337.00,67.87 L337.10,68.13 L337.20,68.38 L337.30,68.62 L337.40,68.85 L337.50,69.06 L337.60,69.25 L337.70,69.43 L337.80,69.60 L337.90,69.75 L338.00,69.89 L338.10,70.01 L338.20,70.12 L338.30,70.21 L338.40,70.29 L338.50,70.35 L338.60,70.40 L338.70,70.43 L338.80,70.45 L338.90,70.45 L339.00,70.49 L339.10,70.47 L339.20,70.44 L339.30,70.40 L339.40,70.35 L339.50,70.29 L339.60,70.23 L339.70,70.15 L339.80,70.07 L339.90,69.98 L340.00,69.89 L340.10,69.80 L340.20,69.70 L340.30,69.60 L340.40,69.48 L340.50,69.34 L340.60,69.16 L340.70,68.97 L340.80,68.75 L340.90,68.51 L341.00,68.26 L341.10,67.99 L341.20,67.72 L341.30,67.43 L341.40,67.14 L341.50,66.85 L341.60,66.57 L341.70,66.28 L341.80,66.00 L341.90,65.72 L342.00,65.42 L342.10,65.11 L342.20,64.79 L342.30,64.46 L342.40,64.12 L342.50,63.78 L342.60,63.44 L342.70,63.10 L342.80,62.76 L342.90,62.43 L343.00,62.11 L343.10,61.80 L343.20,61.50 L343.30,61.20 L343.40,60.90 L343.50,60.59 L343.60,60.29 L343.70,59.98 L343.80,59.68 L343.90,59.39 L344.00,59.11 L344.10,58.85 L344.20,58.60 L344.30,58.38 L344.40,58.18 L344.50,58.00 L344.60,57.84 L344.70,57.67 L344.80,57.51 L344.90,57.35 L345.00,57.20 L345.10,57.05 L345.20,56.92 L345.30,56.79 L345.40,56.68 L345.50,56.59 L345.60,56.51 L345.70,56.45 L345.80,56.41 L345.90,56.40 L346.00,56.41 L346.10,56.45 L346.20,56.50 L346.30,56.57 L346.40,56.67 L346.50,56.77 L346.60,56.89 L346.70,57.02 L346.80,57.17 L346.90,57.32 L347.00,57.47 L347.10,57.64 L347.20,57.80 L347.30,57.99 L347.40,58.22 L347.50,58.49 L347.60,58.79 L347.70,59.12 L347.80,59.48 L347.90,59.87 L348.00,60.27 L348.10,60.69 L348.20,61.12 L348.30,61.56 L348.40,62.00 L348.50,62.46 L348.60,62.95 L348.70,63.47 L348.80,64.01 L348.90,64.59 L349.00,65.19 L349.10,65.82 L349.20,66.48 L349.30,67.16 L349.40,67.87 L349.50,68.60 L349.60,69.37 L349.70,70.19 L349.80,71.06 L349.90,71.96 L350.00,72.91 L350.10,73.90 L350.20,74.91 L350.30,75.96 L350.40,77.03 L350.50,78.12 L350.60,79.23 L350.70,80.35 L350.80,81.49 L350.90,82.63 L351.00,83.78 L351.10,84.92 L351.20,86.06 L351.30,87.20 L351.40,88.33 L351.50,89.46 L351.60,90.59 L351.70,91.72 L351.80,92.87 L351.90,94.04 L352.00,95.22 L352.10,96.42 L352.20,97.65 L352.30,98.91 L352.40,100.20 L352.50,101.54 L352.60,102.91 L352.70,104.33 L352.80,105.80 L352.90,107.32 L353.00,108.88 L353.10,110.50 L353.20,112.17 L353.30,113.89 L353.40,115.67 L353.50,117.51 L353.60,119.42 L353.70,121.39 L353.80,123.43 L353.90,125.55 L354.00,127.73 L354.10,130.00 L354.20,132.42 L354.30,135.07 L354.40,137.91 L354.50,140.93 L354.60,144.09 L354.70,147.37 L354.80,150.75 L354.90,154.21 L355.00,157.71 L355.10,161.24 L355.20,164.77 L355.30,168.27 L355.40,171.72 L355.50,175.10 L355.60,178.38 L355.70,181.53 L355.80,184.53 L355.90,187.37 L356.00,190.00 L356.10,192.48 L356.20,194.88 L356.30,197.21 L356.40,199.47 L356.50,201.67 L356.60,203.81 L356.70,205.91 L356.80,207.97 L356.90,210.00 L357.00,212.00 L357.10,213.98 L357.20,215.95 L357.30,217.91 L357.40,219.88 L357.50,221.86 L357.60,223.85 L357.70,225.87 L357.80,227.92 L357.90,230.00 L358.00,232.13 L358.10,234.30 L358.20,236.50 L358.30,238.73 L358.40,240.97 L358.50,243.23 L358.60,245.48 L358.70,247.74 L358.80,249.97 L358.90,252.19 L359.00,254.39 L359.10,256.54 L359.20,258.65 L359.30,260.72 L359.40,262.72 L359.50,264.66 L359.60,266.52 L359.70,268.31 L359.80,270.00 L359.90,271.62 L360.00,273.18 L360.10,274.68 L360.20,276.13 L360.30,277.54 L360.40,278.90 L360.50,280.23 L360.60,281.52 L360.70,282.77 L360.80,284.00 L360.90,285.19 L361.00,286.35 L361.10,287.47 L361.20,288.55 L361.30,289.62 L361.40,290.66 L361.50,291.68 L361.60,292.69 L361.70,293.70 L361.80,294.70 L361.90,295.70 L362.00,296.69 L362.10,297.66 L362.20,298.63 L362.30,299.58 L362.40,300.52 L362.50,301.44 L362.60,302.34 L362.70,303.22 L362.80,304.07 L362.90,304.90 L363.00,305.72 L363.10,306.54 L363.20,307.36 L363.30,308.17 L363.40,308.98 L363.50,309.76 L363.60,310.53 L363.70,311.26 L363.80,311.97 L363.90,312.63 L364.00,313.26 L364.10,313.84 L364.20,314.36 L364.30,314.83 L364.40,315.26 L364.50,315.67 L364.60,316.05 L364.70,316.41 L364.80,316.75 L364.90,317.08 L365.00,317.39 L365.10,317.70 L365.20,318.00 L365.30,318.30 L365.40,318.60 L365.50,318.88 L365.60,319.16 L365.70,319.43 L365.80,319.70 L365.90,319.96 L366.00,320.20 L366.10,320.44 L366.20,320.68 L366.30,320.90 L366.40,321.12 L366.50,321.35 L366.60,321.58 L366.70,321.80 L366.80,322.02 L366.90,322.22 L367.00,322.40 L367.10,322.56 L367.20,322.70 L367.30,322.80 L367.40,322.88 L367.50,322.97 L367.60,323.05 L367.70,323.12 L367.80,323.19 L367.90,323.25 L368.00,323.30 L368.10,323.34 L368.20,323.37 L368.30,323.39 L368.40,323.40 L368.50,323.40 L368.60,323.40 L368.70,323.40 L368.80,323.40 L368.90,323.40 L369.00,323.40 L369.10,323.40 L369.20,323.40 L369.30,323.40 L369.40,323.40 L369.50,323.40 L369.60,323.40 L369.70,323.40 L369.80,323.40 L369.90,323.40 L370.00,323.40 L370.10,323.40 L370.20,323.40 L370.30,323.40 L370.40,323.40 L370.50,323.40 L370.60,323.40 L370.70,323.40 L370.80,323.40 L370.90,323.40 L371.00,323.40 L371.10,323.40 L371.20,323.40 L371.30,323.40 L371.40,323.40 L371.50,323.40 L371.60,323.40 L371.70,323.40 L371.80,323.40 L371.90,323.40 L372.00,323.40 L372.10,323.40 L372.20,323.40 L372.30,323.40 L372.40,323.40 L372.50,323.40 L372.60,323.40 L372.70,323.40 L372.80,323.40 L372.90,323.40 L373.00,323.40 L373.10,323.40" fill="none" stroke="#000000" stroke-width="2.6" stroke-linejoin="round" stroke-linecap="butt"/>
<path d="M427.80,146.80 L543.70,146.80" fill="none" stroke="#0072BD" stroke-width="2.6" stroke-linejoin="round" stroke-linecap="butt"/>
<path d="M427.80,7.60 L543.70,7.60" fill="none" stroke="#D84C12" stroke-width="2.6" stroke-linejoin="round" stroke-linecap="butt"/>
<path d="M442.20,364.60 L528.90,364.60" fill="none" stroke="#0072BD" stroke-width="2.6" stroke-linejoin="round" stroke-linecap="butt"/>
<path d="M427.80,364.60 L442.20,364.60 L442.20,226.00 L528.90,226.00 L528.90,364.60 L543.70,364.60" fill="none" stroke="#D84C12" stroke-width="2.6" stroke-linejoin="miter" stroke-linecap="butt"/>
</g>
<g>
<text x="54.0" y="17.96" font-family="Liberation Sans, Arial, sans-serif" font-size="15.3" font-weight="bold" fill="#161616" text-anchor="end">2.5</text>
<text x="54.0" y="53.044000000000004" font-family="Liberation Sans, Arial, sans-serif" font-size="15.3" font-weight="bold" fill="#161616" text-anchor="end">2</text>
<text x="54.0" y="88.12800000000001" font-family="Liberation Sans, Arial, sans-serif" font-size="15.3" font-weight="bold" fill="#161616" text-anchor="end">1.5</text>
<text x="54.0" y="123.21200000000002" font-family="Liberation Sans, Arial, sans-serif" font-size="15.3" font-weight="bold" fill="#161616" text-anchor="end">1</text>
<text x="54.0" y="158.29600000000002" font-family="Liberation Sans, Arial, sans-serif" font-size="15.3" font-weight="bold" fill="#161616" text-anchor="end">0.5</text>
<text x="54.0" y="193.38000000000002" font-family="Liberation Sans, Arial, sans-serif" font-size="15.3" font-weight="bold" fill="#161616" text-anchor="end">0</text>
<text x="54.0" y="228.46400000000003" font-family="Liberation Sans, Arial, sans-serif" font-size="15.3" font-weight="bold" fill="#161616" text-anchor="end">-0.5</text>
<text x="54.0" y="263.548" font-family="Liberation Sans, Arial, sans-serif" font-size="15.3" font-weight="bold" fill="#161616" text-anchor="end">-1</text>
<text x="54.0" y="298.632" font-family="Liberation Sans, Arial, sans-serif" font-size="15.3" font-weight="bold" fill="#161616" text-anchor="end">-1.5</text>
<text x="54.0" y="333.716" font-family="Liberation Sans, Arial, sans-serif" font-size="15.3" font-weight="bold" fill="#161616" text-anchor="end">-2</text>
<text x="54.0" y="368.8" font-family="Liberation Sans, Arial, sans-serif" font-size="15.3" font-weight="bold" fill="#161616" text-anchor="end">-2.5</text>
<text x="58" y="382.5" font-family="Liberation Sans, Arial, sans-serif" font-size="15.3" font-weight="bold" fill="#161616" text-anchor="middle">0</text>
<text x="183.2" y="382.5" font-family="Liberation Sans, Arial, sans-serif" font-size="15.3" font-weight="bold" fill="#161616" text-anchor="middle">50</text>
<text x="239.3" y="17.799999999999976" font-family="Liberation Sans, Arial, sans-serif" font-size="15.3" font-weight="bold" fill="#161616" text-anchor="end">16</text>
<text x="239.3" y="56.799999999999976" font-family="Liberation Sans, Arial, sans-serif" font-size="15.3" font-weight="bold" fill="#161616" text-anchor="end">14</text>
<text x="239.3" y="95.79999999999998" font-family="Liberation Sans, Arial, sans-serif" font-size="15.3" font-weight="bold" fill="#161616" text-anchor="end">12</text>
<text x="239.3" y="134.79999999999998" font-family="Liberation Sans, Arial, sans-serif" font-size="15.3" font-weight="bold" fill="#161616" text-anchor="end">10</text>
<text x="239.3" y="173.79999999999998" font-family="Liberation Sans, Arial, sans-serif" font-size="15.3" font-weight="bold" fill="#161616" text-anchor="end">8</text>
<text x="239.3" y="212.79999999999998" font-family="Liberation Sans, Arial, sans-serif" font-size="15.3" font-weight="bold" fill="#161616" text-anchor="end">6</text>
<text x="239.3" y="251.79999999999998" font-family="Liberation Sans, Arial, sans-serif" font-size="15.3" font-weight="bold" fill="#161616" text-anchor="end">4</text>
<text x="239.3" y="290.79999999999995" font-family="Liberation Sans, Arial, sans-serif" font-size="15.3" font-weight="bold" fill="#161616" text-anchor="end">2</text>
<text x="239.3" y="329.79999999999995" font-family="Liberation Sans, Arial, sans-serif" font-size="15.3" font-weight="bold" fill="#161616" text-anchor="end">0</text>
<text x="239.3" y="368.79999999999995" font-family="Liberation Sans, Arial, sans-serif" font-size="15.3" font-weight="bold" fill="#161616" text-anchor="end">-2</text>
<text x="243.5" y="382.8" font-family="Liberation Sans, Arial, sans-serif" font-size="15.3" font-weight="bold" fill="#161616" text-anchor="middle">0</text>
<text x="368.6" y="382.8" font-family="Liberation Sans, Arial, sans-serif" font-size="15.3" font-weight="bold" fill="#161616" text-anchor="middle">50</text>
<text x="423.4" y="153.20000000000002" font-family="Liberation Sans, Arial, sans-serif" font-size="15.3" font-weight="bold" fill="#161616" text-anchor="end">0</text>
<text x="423.4" y="371.0" font-family="Liberation Sans, Arial, sans-serif" font-size="15.3" font-weight="bold" fill="#161616" text-anchor="end">0</text>
<text x="423.4" y="83.45000000000002" font-family="Liberation Sans, Arial, sans-serif" font-size="15.3" font-weight="bold" fill="#161616" text-anchor="end">0.5</text>
<text x="423.4" y="301.55" font-family="Liberation Sans, Arial, sans-serif" font-size="15.3" font-weight="bold" fill="#161616" text-anchor="end">0.5</text>
<text x="423.4" y="13.700000000000012" font-family="Liberation Sans, Arial, sans-serif" font-size="15.3" font-weight="bold" fill="#161616" text-anchor="end">1</text>
<text x="423.4" y="232.10000000000002" font-family="Liberation Sans, Arial, sans-serif" font-size="15.3" font-weight="bold" fill="#161616" text-anchor="end">1</text>
<text x="427.8" y="167.2" font-family="Liberation Sans, Arial, sans-serif" font-size="15.3" font-weight="bold" fill="#161616" text-anchor="middle">0</text>
<text x="539.2" y="167.2" font-family="Liberation Sans, Arial, sans-serif" font-size="15.3" font-weight="bold" fill="#161616" text-anchor="middle">50</text>
<text x="427.8" y="384.8" font-family="Liberation Sans, Arial, sans-serif" font-size="15.3" font-weight="bold" fill="#161616" text-anchor="middle">0</text>
<text x="539.2" y="384.8" font-family="Liberation Sans, Arial, sans-serif" font-size="15.3" font-weight="bold" fill="#161616" text-anchor="middle">50</text>
<text x="94.35000000000001" y="401.0" font-family="Liberation Serif, Times New Roman, serif" font-size="16.3" fill="#1c1c1c" stroke="#1c1c1c" stroke-width="0.22" textLength="33.0" lengthAdjust="spacingAndGlyphs">time</text>
<text x="132.65" y="401.0" font-family="Liberation Serif, Times New Roman, serif" font-size="16.3" fill="#1c1c1c" stroke="#1c1c1c" stroke-width="0.22" textLength="19.4" lengthAdjust="spacingAndGlyphs"><tspan font-size="19.6">(</tspan>s<tspan font-size="19.6">)</tspan></text>
<text x="279.34999999999997" y="401.0" font-family="Liberation Serif, Times New Roman, serif" font-size="16.3" fill="#1c1c1c" stroke="#1c1c1c" stroke-width="0.22" textLength="33.0" lengthAdjust="spacingAndGlyphs">time</text>
<text x="317.65" y="401.0" font-family="Liberation Serif, Times New Roman, serif" font-size="16.3" fill="#1c1c1c" stroke="#1c1c1c" stroke-width="0.22" textLength="19.4" lengthAdjust="spacingAndGlyphs"><tspan font-size="19.6">(</tspan>s<tspan font-size="19.6">)</tspan></text>
<text x="457.15" y="179.5" font-family="Liberation Serif, Times New Roman, serif" font-size="16.3" fill="#1c1c1c" stroke="#1c1c1c" stroke-width="0.22" textLength="33.0" lengthAdjust="spacingAndGlyphs">time</text>
<text x="495.45" y="179.5" font-family="Liberation Serif, Times New Roman, serif" font-size="16.3" fill="#1c1c1c" stroke="#1c1c1c" stroke-width="0.22" textLength="19.4" lengthAdjust="spacingAndGlyphs"><tspan font-size="19.6">(</tspan>s<tspan font-size="19.6">)</tspan></text>
<text x="457.15" y="402.9" font-family="Liberation Serif, Times New Roman, serif" font-size="16.3" fill="#1c1c1c" stroke="#1c1c1c" stroke-width="0.22" textLength="33.0" lengthAdjust="spacingAndGlyphs">time</text>
<text x="495.45" y="402.9" font-family="Liberation Serif, Times New Roman, serif" font-size="16.3" fill="#1c1c1c" stroke="#1c1c1c" stroke-width="0.22" textLength="19.4" lengthAdjust="spacingAndGlyphs"><tspan font-size="19.6">(</tspan>s<tspan font-size="19.6">)</tspan></text>
<text x="122.9" y="424.7" font-family="Liberation Sans, Arial, sans-serif" font-size="14.3" fill="#0d0d0d" stroke="#0d0d0d" stroke-width="0.45" text-anchor="middle" textLength="15.6" lengthAdjust="spacingAndGlyphs">(a)</text>
<text x="308.3" y="424.7" font-family="Liberation Sans, Arial, sans-serif" font-size="14.3" fill="#0d0d0d" stroke="#0d0d0d" stroke-width="0.45" text-anchor="middle" textLength="16.2" lengthAdjust="spacingAndGlyphs">(b)</text>
<text x="486.05" y="200.9" font-family="Liberation Sans, Arial, sans-serif" font-size="14.3" fill="#0d0d0d" stroke="#0d0d0d" stroke-width="0.45" text-anchor="middle" textLength="14.4" lengthAdjust="spacingAndGlyphs">(c)</text>
<text x="486.3" y="424.7" font-family="Liberation Sans, Arial, sans-serif" font-size="14.3" fill="#0d0d0d" stroke="#0d0d0d" stroke-width="0.45" text-anchor="middle" textLength="16.0" lengthAdjust="spacingAndGlyphs">(d)</text>
<g transform="translate(19.9,221.6) rotate(-90)"><text x="-0.2" y="0" font-family="Liberation Serif, Times New Roman, serif" font-size="17" fill="#1c1c1c" stroke="#1c1c1c" stroke-width="0.22" font-style="italic" textLength="9.8" lengthAdjust="spacingAndGlyphs">θ</text><circle cx="5.0" cy="-15.7" r="1.0" fill="#1c1c1c" stroke="#1c1c1c" stroke-width="0.22"/><text x="15.1" y="0" font-family="Liberation Serif, Times New Roman, serif" font-size="16.8" fill="#1c1c1c" stroke="#1c1c1c" stroke-width="0.22" textLength="50.8" lengthAdjust="spacingAndGlyphs"><tspan font-size="19.6">(</tspan>rad/s<tspan font-size="19.6">)</tspan></text></g>
<g transform="translate(214.9,213.2) rotate(-90)"><text x="0" y="0" font-family="Liberation Serif, Times New Roman, serif" font-size="17.4" fill="#1c1c1c" stroke="#1c1c1c" stroke-width="0.22" textLength="52.4" lengthAdjust="spacingAndGlyphs">T<tspan font-size="19.6">(</tspan>Nm<tspan font-size="19.6">)</tspan></text></g>
<g transform="translate(394.9,96.1) rotate(-90)"><text x="0" y="0" font-family="Liberation Serif, Times New Roman, serif" font-size="17" fill="#1c1c1c" stroke="#1c1c1c" stroke-width="0.22" font-style="italic" textLength="11.4" lengthAdjust="spacingAndGlyphs">λ</text><text x="17.2" y="0" font-family="Liberation Serif, Times New Roman, serif" font-size="19.6" fill="#1c1c1c" stroke="#1c1c1c" stroke-width="0.22" textLength="20.2" lengthAdjust="spacingAndGlyphs">(/)</text></g>
<g transform="translate(394.3,313.6) rotate(-90)"><text x="0" y="0" font-family="Liberation Serif, Times New Roman, serif" font-size="16" fill="#1c1c1c" stroke="#1c1c1c" stroke-width="0.22" font-style="italic" textLength="9.6" lengthAdjust="spacingAndGlyphs">γ</text><text x="23.7" y="0.6" font-family="Liberation Serif, Times New Roman, serif" font-size="19.6" fill="#1c1c1c" stroke="#1c1c1c" stroke-width="0.22" textLength="20.2" lengthAdjust="spacingAndGlyphs">(/)</text></g>
<line x1="102" y1="34.05" x2="120.6" y2="34.05" stroke="#0072BD" stroke-width="2.7"/>
<line x1="102" y1="51.7" x2="120.6" y2="51.7" stroke="#D84C12" stroke-width="2.7"/>
<line x1="102" y1="69.7" x2="120.6" y2="69.7" stroke="#EDB120" stroke-width="2.7"/>
<text x="122.6" y="39.25" font-family="Liberation Serif, Times New Roman, serif" font-size="15" fill="#111" stroke="#111" stroke-width="0.25" font-style="italic">θ</text>
<circle cx="127.0" cy="25.95" r="0.9" fill="#111"/>
<text x="130.3" y="40.05" font-family="Liberation Serif, Times New Roman, serif" font-size="8.0" fill="#111" stroke="#111" stroke-width="0.3" textLength="19.6" lengthAdjust="spacingAndGlyphs">CT,1</text>
<text x="122.6" y="56.900000000000006" font-family="Liberation Serif, Times New Roman, serif" font-size="15" fill="#111" stroke="#111" stroke-width="0.25" font-style="italic">θ</text>
<circle cx="127.0" cy="43.60000000000001" r="0.9" fill="#111"/>
<text x="130.3" y="57.7" font-family="Liberation Serif, Times New Roman, serif" font-size="8.0" fill="#111" stroke="#111" stroke-width="0.3" textLength="19.6" lengthAdjust="spacingAndGlyphs">CT,2</text>
<text x="122.6" y="74.9" font-family="Liberation Serif, Times New Roman, serif" font-size="15" fill="#111" stroke="#111" stroke-width="0.25" font-style="italic">θ</text>
<circle cx="127.0" cy="61.60000000000001" r="0.9" fill="#111"/>
<text x="129.6" y="75.7" font-family="Liberation Serif, Times New Roman, serif" font-size="8.0" fill="#111" stroke="#111" stroke-width="0.3" textLength="4.8" lengthAdjust="spacingAndGlyphs">3</text>
<line x1="285.2" y1="163.5" x2="304.2" y2="163.5" stroke="#0072BD" stroke-width="2.7"/>
<line x1="285.2" y1="180.4" x2="304.2" y2="180.4" stroke="#D84C12" stroke-width="2.7"/>
<line x1="285.2" y1="197.3" x2="304.2" y2="197.3" stroke="#EDB120" stroke-width="2.7"/>
<line x1="285.2" y1="214.2" x2="304.2" y2="214.2" stroke="#000" stroke-width="2.7"/>
<text x="305.5" y="167.1" font-family="Liberation Serif, Times New Roman, serif" font-size="14.8" fill="#111" stroke="#111" stroke-width="0.2" textLength="9.7" lengthAdjust="spacingAndGlyphs">T</text>
<text x="315.3" y="169.5" font-family="Liberation Serif, Times New Roman, serif" font-size="8.0" fill="#111" stroke="#111" stroke-width="0.3" textLength="21.0" lengthAdjust="spacingAndGlyphs">CT,1</text>
<text x="305.5" y="184.0" font-family="Liberation Serif, Times New Roman, serif" font-size="14.8" fill="#111" stroke="#111" stroke-width="0.2" textLength="9.7" lengthAdjust="spacingAndGlyphs">T</text>
<text x="315.3" y="186.4" font-family="Liberation Serif, Times New Roman, serif" font-size="8.0" fill="#111" stroke="#111" stroke-width="0.3" textLength="21.0" lengthAdjust="spacingAndGlyphs">CT,2</text>
<text x="305.5" y="200.9" font-family="Liberation Serif, Times New Roman, serif" font-size="14.8" fill="#111" stroke="#111" stroke-width="0.2" textLength="9.7" lengthAdjust="spacingAndGlyphs">T</text>
<text x="315.3" y="204.1" font-family="Liberation Serif, Times New Roman, serif" font-size="8.0" fill="#111" stroke="#111" stroke-width="0.3" textLength="4.8" lengthAdjust="spacingAndGlyphs">3</text>
<text x="305.5" y="217.79999999999998" font-family="Liberation Serif, Times New Roman, serif" font-size="14.8" fill="#111" stroke="#111" stroke-width="0.2" textLength="9.7" lengthAdjust="spacingAndGlyphs">T</text>
<text x="315.3" y="219.7" font-family="Liberation Serif, Times New Roman, serif" font-size="8.4" fill="#111" stroke="#111" stroke-width="0.3" textLength="13.8" lengthAdjust="spacingAndGlyphs">out</text>
<line x1="478" y1="29.1" x2="496.7" y2="29.1" stroke="#0072BD" stroke-width="2.7"/>
<line x1="478" y1="45.6" x2="496.7" y2="45.6" stroke="#D84C12" stroke-width="2.7"/>
<text x="499.6" y="33.0" font-family="Liberation Serif, Times New Roman, serif" font-size="15" fill="#111" stroke="#111" stroke-width="0.25" font-style="italic">λ</text>
<text x="506.6" y="37.4" font-family="Liberation Serif, Times New Roman, serif" font-size="8.0" fill="#111" stroke="#111" stroke-width="0.3" textLength="20.4" lengthAdjust="spacingAndGlyphs">CT,1</text>
<text x="499.6" y="49.5" font-family="Liberation Serif, Times New Roman, serif" font-size="15" fill="#111" stroke="#111" stroke-width="0.25" font-style="italic">λ</text>
<text x="506.6" y="53.9" font-family="Liberation Serif, Times New Roman, serif" font-size="8.0" fill="#111" stroke="#111" stroke-width="0.3" textLength="20.4" lengthAdjust="spacingAndGlyphs">CT,2</text>
<line x1="465.1" y1="244.3" x2="484.2" y2="244.3" stroke="#0072BD" stroke-width="2.7"/>
<line x1="465.1" y1="260.7" x2="484.2" y2="260.7" stroke="#D84C12" stroke-width="2.7"/>
<text x="486" y="247.9" font-family="Liberation Serif, Times New Roman, serif" font-size="15" fill="#111" stroke="#111" stroke-width="0.25" font-style="italic">γ</text>
<text x="491.6" y="254.5" font-family="Liberation Serif, Times New Roman, serif" font-size="8.0" fill="#111" stroke="#111" stroke-width="0.3" textLength="20.4" lengthAdjust="spacingAndGlyphs">CT,1</text>
<text x="486" y="264.3" font-family="Liberation Serif, Times New Roman, serif" font-size="15" fill="#111" stroke="#111" stroke-width="0.25" font-style="italic">γ</text>
<text x="491.6" y="270.90000000000003" font-family="Liberation Serif, Times New Roman, serif" font-size="8.0" fill="#111" stroke="#111" stroke-width="0.3" textLength="20.4" lengthAdjust="spacingAndGlyphs">CT,2</text>
</g>
</svg>
</body></html>
